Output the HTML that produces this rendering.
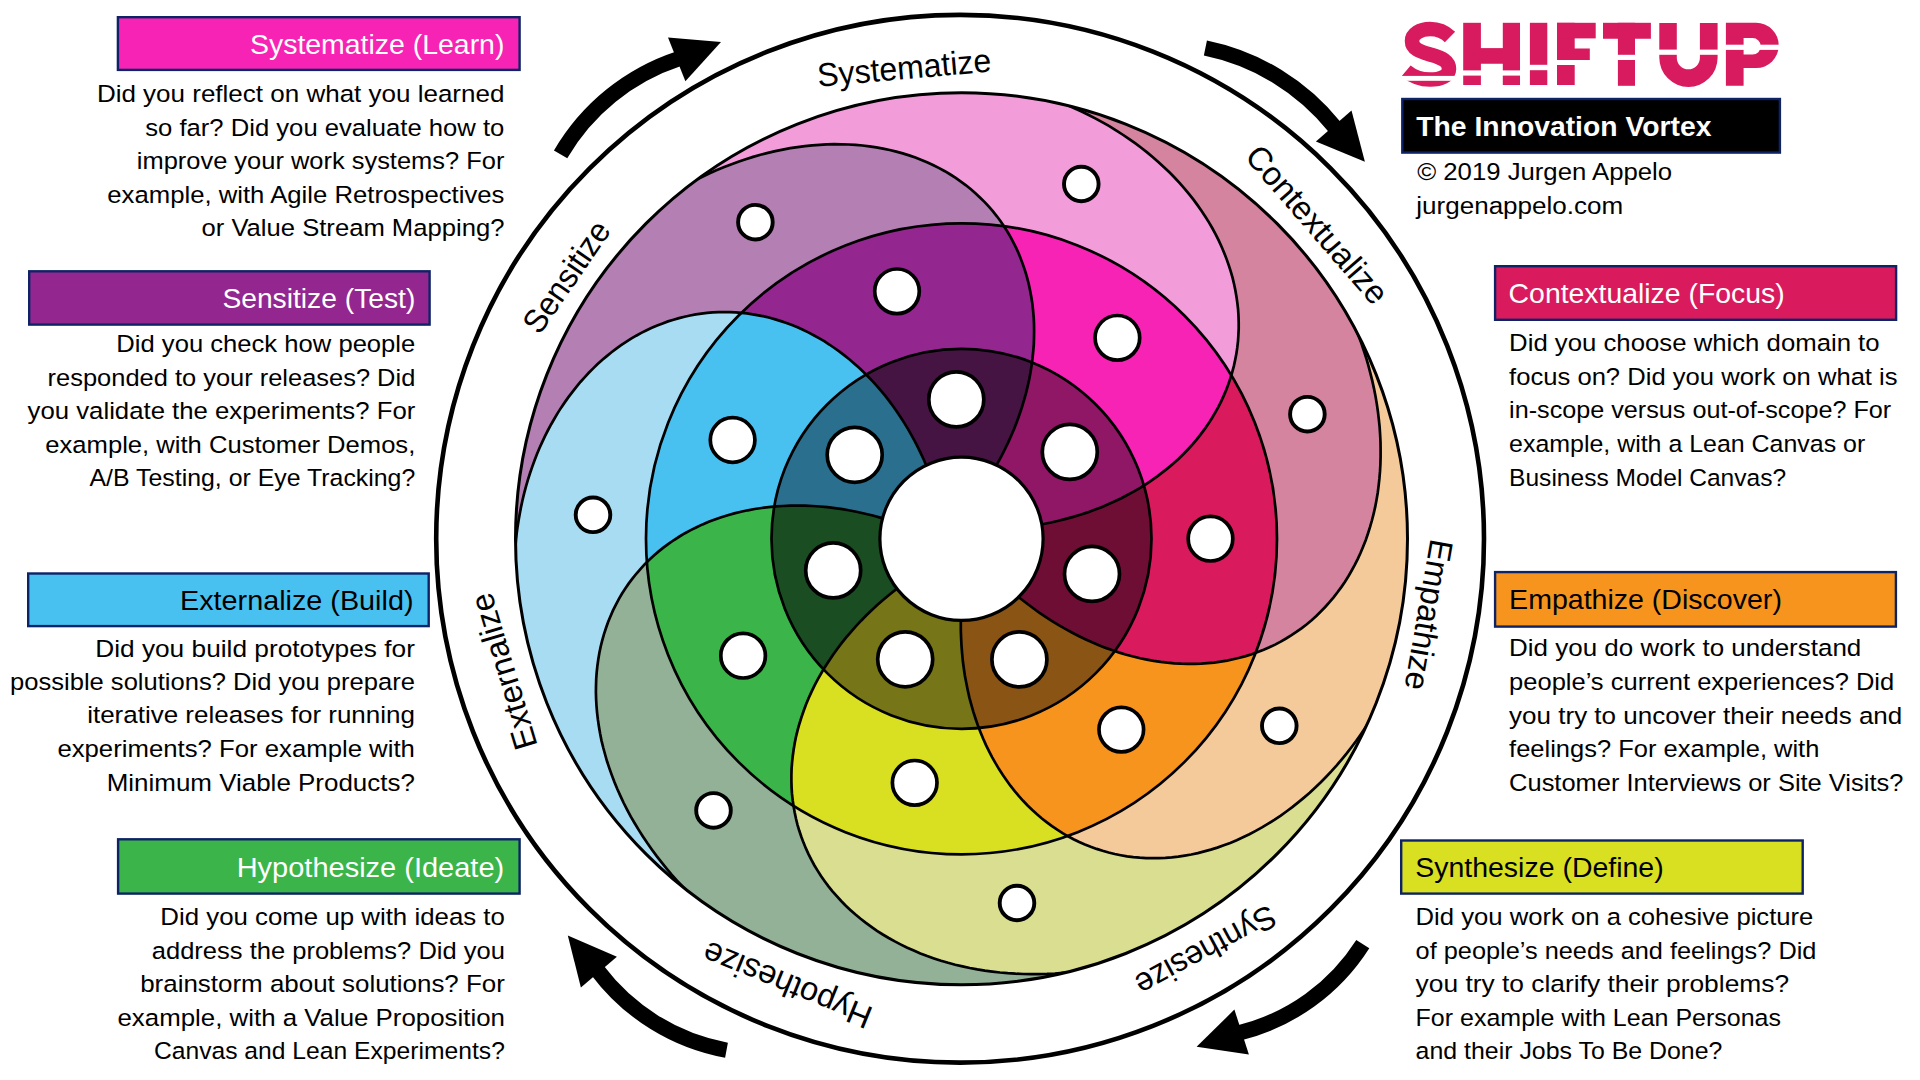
<!DOCTYPE html>
<html><head><meta charset="utf-8"><style>html,body{margin:0;padding:0;background:#fff;width:1920px;height:1080px;overflow:hidden}svg{display:block}svg text{font-family:"Liberation Sans",sans-serif}</style></head>
<body><svg width="1920" height="1080" viewBox="0 0 1920 1080">
<rect width="1920" height="1080" fill="#fff"/>
<defs><clipPath id="cd"><circle cx="961.5" cy="538.8" r="446"/></clipPath>
<clipPath id="c3"><circle cx="961.5" cy="538.8" r="315.5"/></clipPath>
<clipPath id="c2"><circle cx="961.5" cy="538.8" r="190"/></clipPath></defs>
<g clip-path="url(#cd)">
<polygon fill="#B47FB3" points="961.5,538.8 933.8,485.2 931.5,478.6 929,472.1 926.3,465.7 923.6,459.3 920.7,453.1 917.7,446.9 914.6,440.8 911.3,434.8 907.9,428.9 904.4,423.1 900.8,417.5 897.1,411.9 893.3,406.5 889.3,401.1 885.3,395.9 881.1,390.9 876.8,385.9 872.5,381.1 868,376.5 863.5,372 858.8,367.6 854.1,363.4 849.3,359.3 844.4,355.4 839.5,351.6 834.4,348 829.3,344.5 824.2,341.2 818.9,338.1 813.7,335.2 808.3,332.4 802.9,329.8 797.5,327.3 792,325.1 786.5,323 780.9,321.1 775.3,319.4 769.7,317.8 764.1,316.4 758.4,315.3 752.7,314.3 747,313.4 741.3,312.8 735.6,312.4 729.9,312.1 724.2,312 718.4,312.1 712.7,312.4 707.1,312.9 701.4,313.6 695.8,314.4 690.1,315.5 684.5,316.7 679,318.1 673.5,319.7 668,321.4 662.6,323.4 657.2,325.5 651.8,327.8 646.6,330.2 641.3,332.9 636.2,335.7 631.1,338.7 626.1,341.8 621.1,345.1 616.3,348.6 611.5,352.3 606.8,356.1 602.1,360 597.6,364.1 593.2,368.4 588.8,372.8 584.6,377.3 580.4,382 576.4,386.8 572.5,391.8 568.6,396.9 564.9,402.1 561.3,407.4 557.8,412.9 554.5,418.5 551.2,424.2 548.1,430 545.1,435.9 542.3,441.9 539.5,448 536.9,454.2 534.5,460.5 532.2,466.9 530,473.3 527.9,479.8 526,486.4 524.2,493.1 522.6,499.8 521.1,506.6 519.8,513.4 518.6,520.3 517.5,527.2 516.6,534.2 515.9,541.2 515.3,548.2 514.8,555.3 514.5,562.4 514.3,569.4 514.3,576.5 514.5,583.6 514.7,590.8 515.2,597.9 515.8,604.9 516.5,612 517.4,619.1 518.4,626.1 519.6,633.1 520.9,640.1 522.4,647 524,653.9 525.7,660.7 527.6,667.5 529.7,674.3 503.5,682.5 499.3,668.4 495.6,654.2 492.3,640 489.4,625.6 487,611.2 485,596.6 483.5,582.1 482.4,567.4 481.7,552.8 481.5,538.2 481.7,523.5 482.4,508.9 483.6,494.3 485.1,479.7 487.2,465.2 489.6,450.7 492.5,436.4 495.9,422.1 499.7,407.9 503.9,393.9 508.5,380 513.6,366.3 519,352.7 528.3,356.6 531.4,349.6 534.6,342.7 538,335.8 541.6,329 545.3,322.2 549.3,315.5 553.4,308.8 557.7,302.3 562.2,295.7 566.8,289.3 571.6,283 576.5,276.7 581.6,270.5 586.9,264.4 592.3,258.5 597.8,252.6 603.5,246.9 609.3,241.2 615.3,235.7 621.3,230.3 627.5,225.1 633.8,220 640.2,215 646.7,210.1 653.3,205.4 660,200.9 666.8,196.5 673.7,192.3 680.6,188.2 687.6,184.3 694.7,180.5 701.9,177 709.1,173.6 716.3,170.3 723.6,167.3 730.9,164.4 738.3,161.8 745.7,159.3 753.1,156.9 760.5,154.8 767.9,152.9 775.3,151.1 782.8,149.6 790.2,148.2 797.6,147.1 804.9,146.1 812.3,145.4 819.6,144.8 826.9,144.4 834.1,144.2 841.3,144.3 848.4,144.5 855.5,144.9 862.5,145.5 869.4,146.4 876.3,147.4 883,148.6 889.7,150 896.3,151.6 902.7,153.4 909.1,155.4 915.4,157.6 921.5,159.9 927.6,162.5 933.5,165.2 939.2,168.1 944.9,171.2 950.4,174.5 955.7,177.9 960.9,181.6 966,185.3 970.9,189.3 975.7,193.4 980.2,197.7 984.7,202.1 988.9,206.7 993,211.4 996.9,216.3 1000.6,221.3 1004.1,226.5 1007.5,231.8 1010.6,237.2 1013.6,242.8 1016.4,248.4 1019,254.2 1021.3,260.1 1023.5,266.1 1025.5,272.2 1027.3,278.4 1028.9,284.7 1030.2,291.1 1031.4,297.5 1032.4,304.1 1033.1,310.7 1033.7,317.3 1034,324.1 1034.1,330.9 1034,337.7 1033.8,344.6 1033.2,351.5 1032.5,358.5 1031.6,365.5 1030.5,372.5 1029.2,379.5 1027.6,386.6 1025.9,393.6 1023.9,400.7 1021.8,407.7 1019.4,414.7 1016.9,421.7 1014.2,428.7 1011.2,435.7 1008.1,442.6 1004.8,449.5 1001.3,456.4 997.6,463.2 993.8,469.9 989.7,476.6 985.5,483.2"/>
<polygon fill="#F29DDA" points="961.5,538.8 985.5,483.2 989.7,476.6 993.8,469.9 997.6,463.2 1001.3,456.4 1004.8,449.5 1008.1,442.6 1011.2,435.7 1014.2,428.7 1016.9,421.7 1019.4,414.7 1021.8,407.7 1023.9,400.7 1025.9,393.6 1027.6,386.6 1029.2,379.5 1030.5,372.5 1031.6,365.5 1032.5,358.5 1033.2,351.5 1033.8,344.6 1034,337.7 1034.1,330.9 1034,324.1 1033.7,317.3 1033.1,310.7 1032.4,304.1 1031.4,297.5 1030.2,291.1 1028.9,284.7 1027.3,278.4 1025.5,272.2 1023.5,266.1 1021.3,260.1 1019,254.2 1016.4,248.4 1013.6,242.8 1010.6,237.2 1007.5,231.8 1004.1,226.5 1000.6,221.3 996.9,216.3 993,211.4 988.9,206.7 984.7,202.1 980.2,197.7 975.7,193.4 970.9,189.3 966,185.3 960.9,181.6 955.7,177.9 950.4,174.5 944.9,171.2 939.2,168.1 933.5,165.2 927.6,162.5 921.5,159.9 915.4,157.6 909.1,155.4 902.7,153.4 896.3,151.6 889.7,150 883,148.6 876.3,147.4 869.4,146.4 862.5,145.5 855.5,144.9 848.4,144.5 841.3,144.3 834.1,144.2 826.9,144.4 819.6,144.8 812.3,145.4 804.9,146.1 797.6,147.1 790.2,148.2 782.8,149.6 775.3,151.1 767.9,152.9 760.5,154.8 753.1,156.9 745.7,159.3 738.3,161.8 730.9,164.4 723.6,167.3 716.3,170.3 709.1,173.6 701.9,177 694.7,180.5 687.6,184.3 680.6,188.2 673.7,192.3 666.8,196.5 660,200.9 653.3,205.4 646.7,210.1 640.2,215 633.8,220 627.5,225.1 621.3,230.3 615.3,235.7 609.3,241.2 603.5,246.9 597.8,252.6 592.3,258.5 586.9,264.4 581.6,270.5 576.5,276.7 571.6,283 566.8,289.3 562.2,295.7 557.7,302.3 553.4,308.8 549.3,315.5 545.3,322.2 541.6,329 538,335.8 534.6,342.7 531.4,349.6 528.3,356.6 519,352.7 526.6,335.6 534.9,318.8 543.8,302.3 553.3,286.2 563.5,270.5 574.2,255.2 585.6,240.3 597.5,225.9 609.9,211.9 622.9,198.5 636.5,185.5 650.5,173.1 665,161.3 679.9,150 695.3,139.4 711,129.3 727.2,119.8 743.7,111 760.5,102.9 777.7,95.4 795.1,88.5 812.7,82.4 830.6,76.9 834,88.7 841.3,86.7 848.7,84.9 856.2,83.3 863.8,81.8 871.4,80.5 879.2,79.4 886.9,78.5 894.7,77.7 902.6,77.1 910.5,76.7 918.4,76.4 926.4,76.4 934.4,76.5 942.4,76.8 950.4,77.3 958.4,77.9 966.4,78.7 974.4,79.7 982.3,80.9 990.3,82.3 998.2,83.8 1006.1,85.5 1013.9,87.3 1021.7,89.4 1029.5,91.6 1037.1,93.9 1044.8,96.5 1052.3,99.2 1059.8,102 1067.1,105 1074.4,108.2 1081.6,111.5 1088.7,115 1095.7,118.6 1102.6,122.4 1109.3,126.2 1116,130.3 1122.5,134.5 1128.9,138.8 1135.1,143.2 1141.2,147.8 1147.1,152.4 1152.9,157.2 1158.6,162.2 1164,167.2 1169.4,172.3 1174.5,177.5 1179.5,182.9 1184.3,188.3 1188.9,193.8 1193.3,199.4 1197.5,205.1 1201.6,210.9 1205.4,216.7 1209.1,222.6 1212.5,228.5 1215.8,234.6 1218.8,240.6 1221.6,246.8 1224.2,252.9 1226.6,259.1 1228.8,265.4 1230.8,271.6 1232.6,277.9 1234.1,284.2 1235.4,290.6 1236.5,296.9 1237.4,303.3 1238.1,309.6 1238.5,315.9 1238.7,322.3 1238.7,328.6 1238.4,334.9 1238,341.1 1237.3,347.4 1236.4,353.6 1235.2,359.7 1233.9,365.9 1232.3,371.9 1230.5,377.9 1228.5,383.9 1226.3,389.8 1223.8,395.6 1221.2,401.4 1218.3,407.1 1215.2,412.7 1211.9,418.2 1208.5,423.6 1204.8,428.9 1200.9,434.1 1196.8,439.3 1192.6,444.3 1188.1,449.2 1183.5,454 1178.7,458.7 1173.7,463.2 1168.5,467.6 1163.1,471.9 1157.6,476.1 1152,480.1 1146.2,484 1140.2,487.8 1134.1,491.4 1127.8,494.8 1121.4,498.2 1114.9,501.3 1108.2,504.3 1101.5,507.2 1094.6,509.8 1087.6,512.4 1080.4,514.7 1073.2,516.9 1065.9,518.9 1058.5,520.8 1051.1,522.5 1043.5,524 1035.9,525.3 1028.2,526.5 1020.4,527.5"/>
<polygon fill="#D4849E" points="961.5,538.8 1020.4,527.5 1028.2,526.5 1035.9,525.3 1043.5,524 1051.1,522.5 1058.5,520.8 1065.9,518.9 1073.2,516.9 1080.4,514.7 1087.6,512.4 1094.6,509.8 1101.5,507.2 1108.2,504.3 1114.9,501.3 1121.4,498.2 1127.8,494.8 1134.1,491.4 1140.2,487.8 1146.2,484 1152,480.1 1157.6,476.1 1163.1,471.9 1168.5,467.6 1173.7,463.2 1178.7,458.7 1183.5,454 1188.1,449.2 1192.6,444.3 1196.8,439.3 1200.9,434.1 1204.8,428.9 1208.5,423.6 1211.9,418.2 1215.2,412.7 1218.3,407.1 1221.2,401.4 1223.8,395.6 1226.3,389.8 1228.5,383.9 1230.5,377.9 1232.3,371.9 1233.9,365.9 1235.2,359.7 1236.4,353.6 1237.3,347.4 1238,341.1 1238.4,334.9 1238.7,328.6 1238.7,322.3 1238.5,315.9 1238.1,309.6 1237.4,303.3 1236.5,296.9 1235.4,290.6 1234.1,284.2 1232.6,277.9 1230.8,271.6 1228.8,265.4 1226.6,259.1 1224.2,252.9 1221.6,246.8 1218.8,240.6 1215.8,234.6 1212.5,228.5 1209.1,222.6 1205.4,216.7 1201.6,210.9 1197.5,205.1 1193.3,199.4 1188.9,193.8 1184.3,188.3 1179.5,182.9 1174.5,177.5 1169.4,172.3 1164,167.2 1158.6,162.2 1152.9,157.2 1147.1,152.4 1141.2,147.8 1135.1,143.2 1128.9,138.8 1122.5,134.5 1116,130.3 1109.3,126.2 1102.6,122.4 1095.7,118.6 1088.7,115 1081.6,111.5 1074.4,108.2 1067.1,105 1059.8,102 1052.3,99.2 1044.8,96.5 1037.1,93.9 1029.5,91.6 1021.7,89.4 1013.9,87.3 1006.1,85.5 998.2,83.8 990.3,82.3 982.3,80.9 974.4,79.7 966.4,78.7 958.4,77.9 950.4,77.3 942.4,76.8 934.4,76.5 926.4,76.4 918.4,76.4 910.5,76.7 902.6,77.1 894.7,77.7 886.9,78.5 879.2,79.4 871.4,80.5 863.8,81.8 856.2,83.3 848.7,84.9 841.3,86.7 834,88.7 830.6,76.9 848.7,72.2 867,68.1 885.4,64.8 903.9,62.2 922.5,60.3 941.2,59.2 959.8,58.8 978.5,59.1 997.2,60.1 1015.8,61.8 1034.4,64.3 1052.8,67.5 1071.1,71.4 1089.2,76 1107.1,81.4 1124.8,87.4 1142.3,94.1 1159.4,101.5 1176.3,109.5 1192.9,118.2 1209.1,127.5 1224.9,137.5 1240.3,148 1228.3,164.8 1234.6,169.5 1240.9,174.2 1247,179.2 1253.1,184.3 1259,189.5 1264.9,194.9 1270.6,200.5 1276.3,206.2 1281.9,212 1287.3,218 1292.6,224.1 1297.8,230.3 1302.9,236.7 1307.8,243.1 1312.6,249.7 1317.2,256.4 1321.8,263.2 1326.1,270.1 1330.4,277 1334.4,284.1 1338.3,291.2 1342.1,298.4 1345.7,305.7 1349.1,313 1352.4,320.4 1355.5,327.9 1358.4,335.4 1361.2,342.9 1363.8,350.5 1366.2,358 1368.4,365.7 1370.4,373.3 1372.3,380.9 1374,388.6 1375.5,396.2 1376.8,403.9 1377.9,411.5 1378.8,419.1 1379.6,426.7 1380.1,434.3 1380.5,441.8 1380.6,449.3 1380.6,456.7 1380.4,464.1 1380,471.4 1379.4,478.7 1378.6,485.8 1377.7,493 1376.5,500 1375.2,506.9 1373.6,513.8 1371.9,520.5 1370,527.2 1367.9,533.7 1365.7,540.2 1363.2,546.5 1360.6,552.7 1357.8,558.8 1354.9,564.7 1351.7,570.5 1348.4,576.2 1345,581.7 1341.3,587.1 1337.5,592.3 1333.6,597.3 1329.5,602.2 1325.2,607 1320.8,611.5 1316.3,615.9 1311.6,620.2 1306.8,624.2 1301.8,628.1 1296.7,631.7 1291.5,635.2 1286.1,638.5 1280.7,641.6 1275.1,644.6 1269.4,647.3 1263.7,649.8 1257.8,652.1 1251.8,654.2 1245.7,656.1 1239.6,657.8 1233.3,659.3 1227,660.6 1220.6,661.7 1214.1,662.6 1207.6,663.2 1201,663.7 1194.4,663.9 1187.7,663.9 1181,663.7 1174.2,663.3 1167.4,662.7 1160.6,661.9 1153.8,660.9 1146.9,659.6 1140.1,658.2 1133.2,656.5 1126.3,654.7 1119.4,652.6 1112.6,650.3 1105.7,647.9 1098.9,645.2 1092.1,642.3 1085.3,639.3 1078.6,636 1071.9,632.5 1065.3,628.9 1058.7,625.1 1052.1,621.1 1045.6,616.9 1039.2,612.6 1032.9,608 1026.6,603.3 1020.4,598.5 1014.3,593.4 1008.3,588.3 1002.4,582.9"/>
<polygon fill="#F4CA9A" points="961.5,538.8 1002.4,582.9 1008.3,588.3 1014.3,593.4 1020.4,598.5 1026.6,603.3 1032.9,608 1039.2,612.6 1045.6,616.9 1052.1,621.1 1058.7,625.1 1065.3,628.9 1071.9,632.5 1078.6,636 1085.3,639.3 1092.1,642.3 1098.9,645.2 1105.7,647.9 1112.6,650.3 1119.4,652.6 1126.3,654.7 1133.2,656.5 1140.1,658.2 1146.9,659.6 1153.8,660.9 1160.6,661.9 1167.4,662.7 1174.2,663.3 1181,663.7 1187.7,663.9 1194.4,663.9 1201,663.7 1207.6,663.2 1214.1,662.6 1220.6,661.7 1227,660.6 1233.3,659.3 1239.6,657.8 1245.7,656.1 1251.8,654.2 1257.8,652.1 1263.7,649.8 1269.4,647.3 1275.1,644.6 1280.7,641.6 1286.1,638.5 1291.5,635.2 1296.7,631.7 1301.8,628.1 1306.8,624.2 1311.6,620.2 1316.3,615.9 1320.8,611.5 1325.2,607 1329.5,602.2 1333.6,597.3 1337.5,592.3 1341.3,587.1 1345,581.7 1348.4,576.2 1351.7,570.5 1354.9,564.7 1357.8,558.8 1360.6,552.7 1363.2,546.5 1365.7,540.2 1367.9,533.7 1370,527.2 1371.9,520.5 1373.6,513.8 1375.2,506.9 1376.5,500 1377.7,493 1378.6,485.8 1379.4,478.7 1380,471.4 1380.4,464.1 1380.6,456.7 1380.6,449.3 1380.5,441.8 1380.1,434.3 1379.6,426.7 1378.8,419.1 1377.9,411.5 1376.8,403.9 1375.5,396.2 1374,388.6 1372.3,380.9 1370.4,373.3 1368.4,365.7 1366.2,358 1363.8,350.5 1361.2,342.9 1358.4,335.4 1355.5,327.9 1352.4,320.4 1349.1,313 1345.7,305.7 1342.1,298.4 1338.3,291.2 1334.4,284.1 1330.4,277 1326.1,270.1 1321.8,263.2 1317.2,256.4 1312.6,249.7 1307.8,243.1 1302.9,236.7 1297.8,230.3 1292.6,224.1 1287.3,218 1281.9,212 1276.3,206.2 1270.6,200.5 1264.9,194.9 1259,189.5 1253.1,184.3 1247,179.2 1240.9,174.2 1234.6,169.5 1228.3,164.8 1240.3,148 1254.9,158.8 1269,170.1 1282.6,182 1295.8,194.3 1308.6,207.2 1320.8,220.5 1332.6,234.3 1343.8,248.5 1354.4,263.1 1364.6,278.1 1374.1,293.5 1383,309.2 1391.4,325.2 1399.1,341.6 1406.3,358.2 1412.7,375.1 1418.6,392.2 1423.8,409.5 1428.3,427.1 1432.2,444.7 1435.4,462.5 1437.9,480.4 1439.8,498.4 1425.3,499.7 1425.9,507.3 1426.2,515 1426.4,522.8 1426.4,530.6 1426.2,538.4 1425.9,546.2 1425.3,554.1 1424.6,562 1423.7,569.9 1422.6,577.8 1421.4,585.8 1419.9,593.7 1418.3,601.5 1416.5,609.4 1414.5,617.3 1412.4,625.1 1410.1,632.8 1407.6,640.6 1404.9,648.2 1402.1,655.8 1399.1,663.4 1396,670.9 1392.7,678.3 1389.2,685.6 1385.6,692.9 1381.9,700 1378,707.1 1373.9,714 1369.7,720.9 1365.4,727.6 1360.9,734.2 1356.3,740.7 1351.6,747 1346.7,753.3 1341.8,759.3 1336.7,765.3 1331.5,771.1 1326.2,776.7 1320.8,782.2 1315.3,787.5 1309.7,792.7 1304,797.6 1298.2,802.4 1292.3,807.1 1286.4,811.5 1280.4,815.8 1274.3,819.9 1268.2,823.7 1262,827.4 1255.7,830.9 1249.4,834.2 1243,837.3 1236.7,840.2 1230.2,842.9 1223.8,845.3 1217.3,847.6 1210.8,849.6 1204.3,851.4 1197.8,853.1 1191.3,854.5 1184.8,855.6 1178.3,856.6 1171.8,857.3 1165.3,857.8 1158.8,858.1 1152.4,858.2 1146,858.1 1139.7,857.7 1133.3,857.1 1127.1,856.3 1120.8,855.2 1114.7,854 1108.6,852.5 1102.6,850.8 1096.6,848.9 1090.7,846.8 1084.9,844.5 1079.2,842 1073.5,839.2 1068,836.3 1062.6,833.1 1057.2,829.7 1052,826.2 1046.9,822.4 1041.9,818.5 1037,814.3 1032.3,810 1027.6,805.5 1023.1,800.8 1018.7,795.9 1014.5,790.9 1010.4,785.7 1006.5,780.3 1002.7,774.8 999,769.1 995.5,763.2 992.2,757.3 989,751.1 985.9,744.9 983.1,738.5 980.4,731.9 977.8,725.3 975.5,718.5 973.3,711.6 971.3,704.6 969.4,697.6 967.8,690.4 966.3,683.1 964.9,675.7 963.8,668.3 962.8,660.8 962.1,653.2 961.5,645.6 961.1,637.9 960.8,630.1 960.8,622.4 960.9,614.5 961.2,606.7 961.7,598.8"/>
<polygon fill="#DADE91" points="961.5,538.8 961.7,598.8 961.2,606.7 960.9,614.5 960.8,622.4 960.8,630.1 961.1,637.9 961.5,645.6 962.1,653.2 962.8,660.8 963.8,668.3 964.9,675.7 966.3,683.1 967.8,690.4 969.4,697.6 971.3,704.6 973.3,711.6 975.5,718.5 977.8,725.3 980.4,731.9 983.1,738.5 985.9,744.9 989,751.1 992.2,757.3 995.5,763.2 999,769.1 1002.7,774.8 1006.5,780.3 1010.4,785.7 1014.5,790.9 1018.7,795.9 1023.1,800.8 1027.6,805.5 1032.3,810 1037,814.3 1041.9,818.5 1046.9,822.4 1052,826.2 1057.2,829.7 1062.6,833.1 1068,836.3 1073.5,839.2 1079.2,842 1084.9,844.5 1090.7,846.8 1096.6,848.9 1102.6,850.8 1108.6,852.5 1114.7,854 1120.8,855.2 1127.1,856.3 1133.3,857.1 1139.7,857.7 1146,858.1 1152.4,858.2 1158.8,858.1 1165.3,857.8 1171.8,857.3 1178.3,856.6 1184.8,855.6 1191.3,854.5 1197.8,853.1 1204.3,851.4 1210.8,849.6 1217.3,847.6 1223.8,845.3 1230.2,842.9 1236.7,840.2 1243,837.3 1249.4,834.2 1255.7,830.9 1262,827.4 1268.2,823.7 1274.3,819.9 1280.4,815.8 1286.4,811.5 1292.3,807.1 1298.2,802.4 1304,797.6 1309.7,792.7 1315.3,787.5 1320.8,782.2 1326.2,776.7 1331.5,771.1 1336.7,765.3 1341.8,759.3 1346.7,753.3 1351.6,747 1356.3,740.7 1360.9,734.2 1365.4,727.6 1369.7,720.9 1373.9,714 1378,707.1 1381.9,700 1385.6,692.9 1389.2,685.6 1392.7,678.3 1396,670.9 1399.1,663.4 1402.1,655.8 1404.9,648.2 1407.6,640.6 1410.1,632.8 1412.4,625.1 1414.5,617.3 1416.5,609.4 1418.3,601.5 1419.9,593.7 1421.4,585.8 1422.6,577.8 1423.7,569.9 1424.6,562 1425.3,554.1 1425.9,546.2 1426.2,538.4 1426.4,530.6 1426.4,522.8 1426.2,515 1425.9,507.3 1425.3,499.7 1439.8,498.4 1441,517.3 1441.5,536.1 1441.2,555 1440.2,573.8 1438.5,592.6 1436,611.3 1432.8,629.9 1428.8,648.4 1424.1,666.6 1418.8,684.7 1412.7,702.6 1405.9,720.2 1398.4,737.5 1390.3,754.5 1381.5,771.2 1372,787.5 1361.9,803.5 1351.2,819 1339.9,834.1 1328,848.7 1315.5,862.9 1302.5,876.6 1289,889.7 1279,879.1 1273.4,884.2 1267.5,889.3 1261.6,894.2 1255.4,899.1 1249.2,903.8 1242.8,908.3 1236.3,912.8 1229.6,917.1 1222.8,921.3 1215.9,925.3 1208.9,929.2 1201.8,933 1194.6,936.6 1187.3,940 1180,943.3 1172.5,946.5 1165,949.4 1157.4,952.3 1149.7,954.9 1142,957.4 1134.2,959.8 1126.4,961.9 1118.5,963.9 1110.6,965.7 1102.7,967.4 1094.7,968.8 1086.8,970.1 1078.8,971.2 1070.8,972.2 1062.9,972.9 1054.9,973.5 1047,973.9 1039,974.1 1031.2,974.2 1023.3,974 1015.5,973.7 1007.7,973.2 1000,972.5 992.4,971.6 984.8,970.6 977.3,969.4 969.8,968 962.5,966.4 955.2,964.7 948.1,962.8 941,960.7 934,958.4 927.2,956 920.4,953.4 913.8,950.6 907.3,947.7 901,944.6 894.8,941.4 888.7,938 882.8,934.5 877,930.8 871.4,926.9 865.9,922.9 860.6,918.8 855.5,914.6 850.6,910.2 845.8,905.7 841.2,901 836.8,896.2 832.5,891.3 828.5,886.3 824.7,881.2 821,876 817.6,870.6 814.3,865.2 811.3,859.7 808.5,854.1 805.9,848.4 803.5,842.6 801.3,836.7 799.3,830.8 797.5,824.8 796,818.7 794.7,812.6 793.6,806.4 792.7,800.2 792,793.9 791.6,787.6 791.4,781.3 791.4,774.9 791.6,768.5 792.1,762.1 792.8,755.7 793.7,749.2 794.8,742.8 796.1,736.3 797.7,729.9 799.5,723.5 801.5,717.1 803.7,710.7 806.1,704.3 808.7,698 811.6,691.7 814.6,685.4 817.9,679.2 821.4,673 825,666.9 828.9,660.9 832.9,654.9 837.2,649 841.6,643.2 846.2,637.4 851,631.8 856,626.2 861.1,620.7 866.4,615.3 871.9,610 877.5,604.8 883.3,599.7 889.3,594.7 895.4,589.9 901.6,585.2 907.9,580.6 914.4,576.1"/>
<polygon fill="#93B196" points="961.5,538.8 914.4,576.1 907.9,580.6 901.6,585.2 895.4,589.9 889.3,594.7 883.3,599.7 877.5,604.8 871.9,610 866.4,615.3 861.1,620.7 856,626.2 851,631.8 846.2,637.4 841.6,643.2 837.2,649 832.9,654.9 828.9,660.9 825,666.9 821.4,673 817.9,679.2 814.6,685.4 811.6,691.7 808.7,698 806.1,704.3 803.7,710.7 801.5,717.1 799.5,723.5 797.7,729.9 796.1,736.3 794.8,742.8 793.7,749.2 792.8,755.7 792.1,762.1 791.6,768.5 791.4,774.9 791.4,781.3 791.6,787.6 792,793.9 792.7,800.2 793.6,806.4 794.7,812.6 796,818.7 797.5,824.8 799.3,830.8 801.3,836.7 803.5,842.6 805.9,848.4 808.5,854.1 811.3,859.7 814.3,865.2 817.6,870.6 821,876 824.7,881.2 828.5,886.3 832.5,891.3 836.8,896.2 841.2,901 845.8,905.7 850.6,910.2 855.5,914.6 860.6,918.8 865.9,922.9 871.4,926.9 877,930.8 882.8,934.5 888.7,938 894.8,941.4 901,944.6 907.3,947.7 913.8,950.6 920.4,953.4 927.2,956 934,958.4 941,960.7 948.1,962.8 955.2,964.7 962.5,966.4 969.8,968 977.3,969.4 984.8,970.6 992.4,971.6 1000,972.5 1007.7,973.2 1015.5,973.7 1023.3,974 1031.2,974.2 1039,974.1 1047,973.9 1054.9,973.5 1062.9,972.9 1070.8,972.2 1078.8,971.2 1086.8,970.1 1094.7,968.8 1102.7,967.4 1110.6,965.7 1118.5,963.9 1126.4,961.9 1134.2,959.8 1142,957.4 1149.7,954.9 1157.4,952.3 1165,949.4 1172.5,946.5 1180,943.3 1187.3,940 1194.6,936.6 1201.8,933 1208.9,929.2 1215.9,925.3 1222.8,921.3 1229.6,917.1 1236.3,912.8 1242.8,908.3 1249.2,903.8 1255.4,899.1 1261.6,894.2 1267.5,889.3 1273.4,884.2 1279,879.1 1289,889.7 1274.7,902.5 1259.9,914.7 1244.7,926.3 1229,937.3 1212.9,947.6 1196.4,957.3 1179.5,966.4 1162.3,974.7 1144.8,982.4 1126.9,989.3 1108.8,995.6 1090.5,1001.1 1072,1005.9 1053.2,1009.9 1034.4,1013.2 1015.4,1015.7 996.3,1017.5 977.2,1018.5 958.1,1018.7 938.9,1018.2 919.8,1016.9 900.8,1014.9 881.8,1012.1 884.5,996.4 876.9,995 869.3,993.4 861.7,991.7 854.2,989.7 846.6,987.6 839,985.3 831.5,982.8 824,980.1 816.5,977.2 809,974.2 801.6,971 794.3,967.6 787,964 779.8,960.3 772.6,956.4 765.5,952.3 758.5,948.1 751.6,943.8 744.7,939.2 738,934.6 731.4,929.7 724.8,924.8 718.4,919.7 712.1,914.5 705.9,909.1 699.9,903.7 693.9,898.1 688.1,892.3 682.5,886.5 677,880.6 671.6,874.6 666.4,868.4 661.4,862.2 656.5,855.9 651.8,849.5 647.3,843.1 642.9,836.5 638.7,829.9 634.7,823.3 630.8,816.6 627.2,809.8 623.7,803 620.5,796.1 617.4,789.3 614.5,782.3 611.9,775.4 609.4,768.4 607.1,761.5 605.1,754.5 603.2,747.5 601.5,740.6 600.1,733.6 598.9,726.6 597.9,719.7 597.1,712.8 596.5,706 596.1,699.1 595.9,692.3 596,685.6 596.2,678.9 596.7,672.3 597.4,665.7 598.3,659.2 599.4,652.8 600.7,646.5 602.3,640.2 604,634.1 606,628 608.1,622 610.5,616.2 613,610.4 615.8,604.8 618.8,599.2 621.9,593.8 625.3,588.6 628.8,583.4 632.6,578.4 636.5,573.5 640.6,568.8 644.8,564.2 649.3,559.8 653.9,555.5 658.7,551.4 663.7,547.4 668.8,543.6 674,540 679.5,536.5 685,533.2 690.7,530.1 696.6,527.2 702.6,524.4 708.7,521.8 714.9,519.5 721.3,517.2 727.8,515.2 734.3,513.4 741,511.8 747.8,510.3 754.7,509 761.7,508 768.7,507.1 775.8,506.4 783,506 790.3,505.7 797.6,505.6 805,505.7 812.4,506 819.9,506.5 827.4,507.2 834.9,508.1 842.4,509.2 850,510.5 857.6,512 865.2,513.7 872.8,515.5 880.3,517.6 887.9,519.8 895.5,522.2 903,524.8"/>
<polygon fill="#A8DCF2" points="961.5,538.8 903,524.8 895.5,522.2 887.9,519.8 880.3,517.6 872.8,515.5 865.2,513.7 857.6,512 850,510.5 842.4,509.2 834.9,508.1 827.4,507.2 819.9,506.5 812.4,506 805,505.7 797.6,505.6 790.3,505.7 783,506 775.8,506.4 768.7,507.1 761.7,508 754.7,509 747.8,510.3 741,511.8 734.3,513.4 727.8,515.2 721.3,517.2 714.9,519.5 708.7,521.8 702.6,524.4 696.6,527.2 690.7,530.1 685,533.2 679.5,536.5 674,540 668.8,543.6 663.7,547.4 658.7,551.4 653.9,555.5 649.3,559.8 644.8,564.2 640.6,568.8 636.5,573.5 632.6,578.4 628.8,583.4 625.3,588.6 621.9,593.8 618.8,599.2 615.8,604.8 613,610.4 610.5,616.2 608.1,622 606,628 604,634.1 602.3,640.2 600.7,646.5 599.4,652.8 598.3,659.2 597.4,665.7 596.7,672.3 596.2,678.9 596,685.6 595.9,692.3 596.1,699.1 596.5,706 597.1,712.8 597.9,719.7 598.9,726.6 600.1,733.6 601.5,740.6 603.2,747.5 605.1,754.5 607.1,761.5 609.4,768.4 611.9,775.4 614.5,782.3 617.4,789.3 620.5,796.1 623.7,803 627.2,809.8 630.8,816.6 634.7,823.3 638.7,829.9 642.9,836.5 647.3,843.1 651.8,849.5 656.5,855.9 661.4,862.2 666.4,868.4 671.6,874.6 677,880.6 682.5,886.5 688.1,892.3 693.9,898.1 699.9,903.7 705.9,909.1 712.1,914.5 718.4,919.7 724.8,924.8 731.4,929.7 738,934.6 744.7,939.2 751.6,943.8 758.5,948.1 765.5,952.3 772.6,956.4 779.8,960.3 787,964 794.3,967.6 801.6,971 809,974.2 816.5,977.2 824,980.1 831.5,982.8 839,985.3 846.6,987.6 854.2,989.7 861.7,991.7 869.3,993.4 876.9,995 884.5,996.4 881.8,1012.1 859.3,1007.7 837,1002.3 815,995.8 793.3,988.3 772,979.8 751.1,970.2 730.7,959.6 710.9,948.1 691.6,935.7 672.9,922.3 654.9,908.1 637.6,893 621,877.1 605.3,860.5 590.3,843.1 576.2,825 562.9,806.2 550.6,786.8 539.2,766.9 528.8,746.5 519.3,725.5 510.9,704.2 503.5,682.5 529.7,674.3 527.6,667.5 525.7,660.7 524,653.9 522.4,647 520.9,640.1 519.6,633.1 518.4,626.1 517.4,619.1 516.5,612 515.8,604.9 515.2,597.9 514.7,590.8 514.5,583.6 514.3,576.5 514.3,569.4 514.5,562.4 514.8,555.3 515.3,548.2 515.9,541.2 516.6,534.2 517.5,527.2 518.6,520.3 519.8,513.4 521.1,506.6 522.6,499.8 524.2,493.1 526,486.4 527.9,479.8 530,473.3 532.2,466.9 534.5,460.5 536.9,454.2 539.5,448 542.3,441.9 545.1,435.9 548.1,430 551.2,424.2 554.5,418.5 557.8,412.9 561.3,407.4 564.9,402.1 568.6,396.9 572.5,391.8 576.4,386.8 580.4,382 584.6,377.3 588.8,372.8 593.2,368.4 597.6,364.1 602.1,360 606.8,356.1 611.5,352.3 616.3,348.6 621.1,345.1 626.1,341.8 631.1,338.7 636.2,335.7 641.3,332.9 646.6,330.2 651.8,327.8 657.2,325.5 662.6,323.4 668,321.4 673.5,319.7 679,318.1 684.5,316.7 690.1,315.5 695.8,314.4 701.4,313.6 707.1,312.9 712.7,312.4 718.4,312.1 724.2,312 729.9,312.1 735.6,312.4 741.3,312.8 747,313.4 752.7,314.3 758.4,315.3 764.1,316.4 769.7,317.8 775.3,319.4 780.9,321.1 786.5,323 792,325.1 797.5,327.3 802.9,329.8 808.3,332.4 813.7,335.2 818.9,338.1 824.2,341.2 829.3,344.5 834.4,348 839.5,351.6 844.4,355.4 849.3,359.3 854.1,363.4 858.8,367.6 863.5,372 868,376.5 872.5,381.1 876.8,385.9 881.1,390.9 885.3,395.9 889.3,401.1 893.3,406.5 897.1,411.9 900.8,417.5 904.4,423.1 907.9,428.9 911.3,434.8 914.6,440.8 917.7,446.9 920.7,453.1 923.6,459.3 926.3,465.7 929,472.1 931.5,478.6 933.8,485.2"/>
<g clip-path="url(#c3)">
<polygon fill="#93278F" points="961.5,538.8 933.8,485.2 931.5,478.6 929,472.1 926.3,465.7 923.6,459.3 920.7,453.1 917.7,446.9 914.6,440.8 911.3,434.8 907.9,428.9 904.4,423.1 900.8,417.5 897.1,411.9 893.3,406.5 889.3,401.1 885.3,395.9 881.1,390.9 876.8,385.9 872.5,381.1 868,376.5 863.5,372 858.8,367.6 854.1,363.4 849.3,359.3 844.4,355.4 839.5,351.6 834.4,348 829.3,344.5 824.2,341.2 818.9,338.1 813.7,335.2 808.3,332.4 802.9,329.8 797.5,327.3 792,325.1 786.5,323 780.9,321.1 775.3,319.4 769.7,317.8 764.1,316.4 758.4,315.3 752.7,314.3 747,313.4 741.3,312.8 735.6,312.4 729.9,312.1 724.2,312 718.4,312.1 712.7,312.4 707.1,312.9 701.4,313.6 695.8,314.4 690.1,315.5 684.5,316.7 679,318.1 673.5,319.7 668,321.4 662.6,323.4 657.2,325.5 651.8,327.8 646.6,330.2 641.3,332.9 636.2,335.7 631.1,338.7 626.1,341.8 621.1,345.1 616.3,348.6 611.5,352.3 606.8,356.1 602.1,360 597.6,364.1 593.2,368.4 588.8,372.8 584.6,377.3 580.4,382 576.4,386.8 572.5,391.8 568.6,396.9 564.9,402.1 561.3,407.4 557.8,412.9 554.5,418.5 551.2,424.2 548.1,430 545.1,435.9 542.3,441.9 539.5,448 536.9,454.2 534.5,460.5 532.2,466.9 530,473.3 527.9,479.8 526,486.4 524.2,493.1 522.6,499.8 521.1,506.6 519.8,513.4 518.6,520.3 517.5,527.2 516.6,534.2 515.9,541.2 515.3,548.2 514.8,555.3 514.5,562.4 514.3,569.4 514.3,576.5 514.5,583.6 514.7,590.8 515.2,597.9 515.8,604.9 516.5,612 517.4,619.1 518.4,626.1 519.6,633.1 520.9,640.1 522.4,647 524,653.9 525.7,660.7 527.6,667.5 529.7,674.3 503.5,682.5 499.3,668.4 495.6,654.2 492.3,640 489.4,625.6 487,611.2 485,596.6 483.5,582.1 482.4,567.4 481.7,552.8 481.5,538.2 481.7,523.5 482.4,508.9 483.6,494.3 485.1,479.7 487.2,465.2 489.6,450.7 492.5,436.4 495.9,422.1 499.7,407.9 503.9,393.9 508.5,380 513.6,366.3 519,352.7 528.3,356.6 531.4,349.6 534.6,342.7 538,335.8 541.6,329 545.3,322.2 549.3,315.5 553.4,308.8 557.7,302.3 562.2,295.7 566.8,289.3 571.6,283 576.5,276.7 581.6,270.5 586.9,264.4 592.3,258.5 597.8,252.6 603.5,246.9 609.3,241.2 615.3,235.7 621.3,230.3 627.5,225.1 633.8,220 640.2,215 646.7,210.1 653.3,205.4 660,200.9 666.8,196.5 673.7,192.3 680.6,188.2 687.6,184.3 694.7,180.5 701.9,177 709.1,173.6 716.3,170.3 723.6,167.3 730.9,164.4 738.3,161.8 745.7,159.3 753.1,156.9 760.5,154.8 767.9,152.9 775.3,151.1 782.8,149.6 790.2,148.2 797.6,147.1 804.9,146.1 812.3,145.4 819.6,144.8 826.9,144.4 834.1,144.2 841.3,144.3 848.4,144.5 855.5,144.9 862.5,145.5 869.4,146.4 876.3,147.4 883,148.6 889.7,150 896.3,151.6 902.7,153.4 909.1,155.4 915.4,157.6 921.5,159.9 927.6,162.5 933.5,165.2 939.2,168.1 944.9,171.2 950.4,174.5 955.7,177.9 960.9,181.6 966,185.3 970.9,189.3 975.7,193.4 980.2,197.7 984.7,202.1 988.9,206.7 993,211.4 996.9,216.3 1000.6,221.3 1004.1,226.5 1007.5,231.8 1010.6,237.2 1013.6,242.8 1016.4,248.4 1019,254.2 1021.3,260.1 1023.5,266.1 1025.5,272.2 1027.3,278.4 1028.9,284.7 1030.2,291.1 1031.4,297.5 1032.4,304.1 1033.1,310.7 1033.7,317.3 1034,324.1 1034.1,330.9 1034,337.7 1033.8,344.6 1033.2,351.5 1032.5,358.5 1031.6,365.5 1030.5,372.5 1029.2,379.5 1027.6,386.6 1025.9,393.6 1023.9,400.7 1021.8,407.7 1019.4,414.7 1016.9,421.7 1014.2,428.7 1011.2,435.7 1008.1,442.6 1004.8,449.5 1001.3,456.4 997.6,463.2 993.8,469.9 989.7,476.6 985.5,483.2"/>
<polygon fill="#F623B5" points="961.5,538.8 985.5,483.2 989.7,476.6 993.8,469.9 997.6,463.2 1001.3,456.4 1004.8,449.5 1008.1,442.6 1011.2,435.7 1014.2,428.7 1016.9,421.7 1019.4,414.7 1021.8,407.7 1023.9,400.7 1025.9,393.6 1027.6,386.6 1029.2,379.5 1030.5,372.5 1031.6,365.5 1032.5,358.5 1033.2,351.5 1033.8,344.6 1034,337.7 1034.1,330.9 1034,324.1 1033.7,317.3 1033.1,310.7 1032.4,304.1 1031.4,297.5 1030.2,291.1 1028.9,284.7 1027.3,278.4 1025.5,272.2 1023.5,266.1 1021.3,260.1 1019,254.2 1016.4,248.4 1013.6,242.8 1010.6,237.2 1007.5,231.8 1004.1,226.5 1000.6,221.3 996.9,216.3 993,211.4 988.9,206.7 984.7,202.1 980.2,197.7 975.7,193.4 970.9,189.3 966,185.3 960.9,181.6 955.7,177.9 950.4,174.5 944.9,171.2 939.2,168.1 933.5,165.2 927.6,162.5 921.5,159.9 915.4,157.6 909.1,155.4 902.7,153.4 896.3,151.6 889.7,150 883,148.6 876.3,147.4 869.4,146.4 862.5,145.5 855.5,144.9 848.4,144.5 841.3,144.3 834.1,144.2 826.9,144.4 819.6,144.8 812.3,145.4 804.9,146.1 797.6,147.1 790.2,148.2 782.8,149.6 775.3,151.1 767.9,152.9 760.5,154.8 753.1,156.9 745.7,159.3 738.3,161.8 730.9,164.4 723.6,167.3 716.3,170.3 709.1,173.6 701.9,177 694.7,180.5 687.6,184.3 680.6,188.2 673.7,192.3 666.8,196.5 660,200.9 653.3,205.4 646.7,210.1 640.2,215 633.8,220 627.5,225.1 621.3,230.3 615.3,235.7 609.3,241.2 603.5,246.9 597.8,252.6 592.3,258.5 586.9,264.4 581.6,270.5 576.5,276.7 571.6,283 566.8,289.3 562.2,295.7 557.7,302.3 553.4,308.8 549.3,315.5 545.3,322.2 541.6,329 538,335.8 534.6,342.7 531.4,349.6 528.3,356.6 519,352.7 526.6,335.6 534.9,318.8 543.8,302.3 553.3,286.2 563.5,270.5 574.2,255.2 585.6,240.3 597.5,225.9 609.9,211.9 622.9,198.5 636.5,185.5 650.5,173.1 665,161.3 679.9,150 695.3,139.4 711,129.3 727.2,119.8 743.7,111 760.5,102.9 777.7,95.4 795.1,88.5 812.7,82.4 830.6,76.9 834,88.7 841.3,86.7 848.7,84.9 856.2,83.3 863.8,81.8 871.4,80.5 879.2,79.4 886.9,78.5 894.7,77.7 902.6,77.1 910.5,76.7 918.4,76.4 926.4,76.4 934.4,76.5 942.4,76.8 950.4,77.3 958.4,77.9 966.4,78.7 974.4,79.7 982.3,80.9 990.3,82.3 998.2,83.8 1006.1,85.5 1013.9,87.3 1021.7,89.4 1029.5,91.6 1037.1,93.9 1044.8,96.5 1052.3,99.2 1059.8,102 1067.1,105 1074.4,108.2 1081.6,111.5 1088.7,115 1095.7,118.6 1102.6,122.4 1109.3,126.2 1116,130.3 1122.5,134.5 1128.9,138.8 1135.1,143.2 1141.2,147.8 1147.1,152.4 1152.9,157.2 1158.6,162.2 1164,167.2 1169.4,172.3 1174.5,177.5 1179.5,182.9 1184.3,188.3 1188.9,193.8 1193.3,199.4 1197.5,205.1 1201.6,210.9 1205.4,216.7 1209.1,222.6 1212.5,228.5 1215.8,234.6 1218.8,240.6 1221.6,246.8 1224.2,252.9 1226.6,259.1 1228.8,265.4 1230.8,271.6 1232.6,277.9 1234.1,284.2 1235.4,290.6 1236.5,296.9 1237.4,303.3 1238.1,309.6 1238.5,315.9 1238.7,322.3 1238.7,328.6 1238.4,334.9 1238,341.1 1237.3,347.4 1236.4,353.6 1235.2,359.7 1233.9,365.9 1232.3,371.9 1230.5,377.9 1228.5,383.9 1226.3,389.8 1223.8,395.6 1221.2,401.4 1218.3,407.1 1215.2,412.7 1211.9,418.2 1208.5,423.6 1204.8,428.9 1200.9,434.1 1196.8,439.3 1192.6,444.3 1188.1,449.2 1183.5,454 1178.7,458.7 1173.7,463.2 1168.5,467.6 1163.1,471.9 1157.6,476.1 1152,480.1 1146.2,484 1140.2,487.8 1134.1,491.4 1127.8,494.8 1121.4,498.2 1114.9,501.3 1108.2,504.3 1101.5,507.2 1094.6,509.8 1087.6,512.4 1080.4,514.7 1073.2,516.9 1065.9,518.9 1058.5,520.8 1051.1,522.5 1043.5,524 1035.9,525.3 1028.2,526.5 1020.4,527.5"/>
<polygon fill="#D91A5D" points="961.5,538.8 1020.4,527.5 1028.2,526.5 1035.9,525.3 1043.5,524 1051.1,522.5 1058.5,520.8 1065.9,518.9 1073.2,516.9 1080.4,514.7 1087.6,512.4 1094.6,509.8 1101.5,507.2 1108.2,504.3 1114.9,501.3 1121.4,498.2 1127.8,494.8 1134.1,491.4 1140.2,487.8 1146.2,484 1152,480.1 1157.6,476.1 1163.1,471.9 1168.5,467.6 1173.7,463.2 1178.7,458.7 1183.5,454 1188.1,449.2 1192.6,444.3 1196.8,439.3 1200.9,434.1 1204.8,428.9 1208.5,423.6 1211.9,418.2 1215.2,412.7 1218.3,407.1 1221.2,401.4 1223.8,395.6 1226.3,389.8 1228.5,383.9 1230.5,377.9 1232.3,371.9 1233.9,365.9 1235.2,359.7 1236.4,353.6 1237.3,347.4 1238,341.1 1238.4,334.9 1238.7,328.6 1238.7,322.3 1238.5,315.9 1238.1,309.6 1237.4,303.3 1236.5,296.9 1235.4,290.6 1234.1,284.2 1232.6,277.9 1230.8,271.6 1228.8,265.4 1226.6,259.1 1224.2,252.9 1221.6,246.8 1218.8,240.6 1215.8,234.6 1212.5,228.5 1209.1,222.6 1205.4,216.7 1201.6,210.9 1197.5,205.1 1193.3,199.4 1188.9,193.8 1184.3,188.3 1179.5,182.9 1174.5,177.5 1169.4,172.3 1164,167.2 1158.6,162.2 1152.9,157.2 1147.1,152.4 1141.2,147.8 1135.1,143.2 1128.9,138.8 1122.5,134.5 1116,130.3 1109.3,126.2 1102.6,122.4 1095.7,118.6 1088.7,115 1081.6,111.5 1074.4,108.2 1067.1,105 1059.8,102 1052.3,99.2 1044.8,96.5 1037.1,93.9 1029.5,91.6 1021.7,89.4 1013.9,87.3 1006.1,85.5 998.2,83.8 990.3,82.3 982.3,80.9 974.4,79.7 966.4,78.7 958.4,77.9 950.4,77.3 942.4,76.8 934.4,76.5 926.4,76.4 918.4,76.4 910.5,76.7 902.6,77.1 894.7,77.7 886.9,78.5 879.2,79.4 871.4,80.5 863.8,81.8 856.2,83.3 848.7,84.9 841.3,86.7 834,88.7 830.6,76.9 848.7,72.2 867,68.1 885.4,64.8 903.9,62.2 922.5,60.3 941.2,59.2 959.8,58.8 978.5,59.1 997.2,60.1 1015.8,61.8 1034.4,64.3 1052.8,67.5 1071.1,71.4 1089.2,76 1107.1,81.4 1124.8,87.4 1142.3,94.1 1159.4,101.5 1176.3,109.5 1192.9,118.2 1209.1,127.5 1224.9,137.5 1240.3,148 1228.3,164.8 1234.6,169.5 1240.9,174.2 1247,179.2 1253.1,184.3 1259,189.5 1264.9,194.9 1270.6,200.5 1276.3,206.2 1281.9,212 1287.3,218 1292.6,224.1 1297.8,230.3 1302.9,236.7 1307.8,243.1 1312.6,249.7 1317.2,256.4 1321.8,263.2 1326.1,270.1 1330.4,277 1334.4,284.1 1338.3,291.2 1342.1,298.4 1345.7,305.7 1349.1,313 1352.4,320.4 1355.5,327.9 1358.4,335.4 1361.2,342.9 1363.8,350.5 1366.2,358 1368.4,365.7 1370.4,373.3 1372.3,380.9 1374,388.6 1375.5,396.2 1376.8,403.9 1377.9,411.5 1378.8,419.1 1379.6,426.7 1380.1,434.3 1380.5,441.8 1380.6,449.3 1380.6,456.7 1380.4,464.1 1380,471.4 1379.4,478.7 1378.6,485.8 1377.7,493 1376.5,500 1375.2,506.9 1373.6,513.8 1371.9,520.5 1370,527.2 1367.9,533.7 1365.7,540.2 1363.2,546.5 1360.6,552.7 1357.8,558.8 1354.9,564.7 1351.7,570.5 1348.4,576.2 1345,581.7 1341.3,587.1 1337.5,592.3 1333.6,597.3 1329.5,602.2 1325.2,607 1320.8,611.5 1316.3,615.9 1311.6,620.2 1306.8,624.2 1301.8,628.1 1296.7,631.7 1291.5,635.2 1286.1,638.5 1280.7,641.6 1275.1,644.6 1269.4,647.3 1263.7,649.8 1257.8,652.1 1251.8,654.2 1245.7,656.1 1239.6,657.8 1233.3,659.3 1227,660.6 1220.6,661.7 1214.1,662.6 1207.6,663.2 1201,663.7 1194.4,663.9 1187.7,663.9 1181,663.7 1174.2,663.3 1167.4,662.7 1160.6,661.9 1153.8,660.9 1146.9,659.6 1140.1,658.2 1133.2,656.5 1126.3,654.7 1119.4,652.6 1112.6,650.3 1105.7,647.9 1098.9,645.2 1092.1,642.3 1085.3,639.3 1078.6,636 1071.9,632.5 1065.3,628.9 1058.7,625.1 1052.1,621.1 1045.6,616.9 1039.2,612.6 1032.9,608 1026.6,603.3 1020.4,598.5 1014.3,593.4 1008.3,588.3 1002.4,582.9"/>
<polygon fill="#F7941E" points="961.5,538.8 1002.4,582.9 1008.3,588.3 1014.3,593.4 1020.4,598.5 1026.6,603.3 1032.9,608 1039.2,612.6 1045.6,616.9 1052.1,621.1 1058.7,625.1 1065.3,628.9 1071.9,632.5 1078.6,636 1085.3,639.3 1092.1,642.3 1098.9,645.2 1105.7,647.9 1112.6,650.3 1119.4,652.6 1126.3,654.7 1133.2,656.5 1140.1,658.2 1146.9,659.6 1153.8,660.9 1160.6,661.9 1167.4,662.7 1174.2,663.3 1181,663.7 1187.7,663.9 1194.4,663.9 1201,663.7 1207.6,663.2 1214.1,662.6 1220.6,661.7 1227,660.6 1233.3,659.3 1239.6,657.8 1245.7,656.1 1251.8,654.2 1257.8,652.1 1263.7,649.8 1269.4,647.3 1275.1,644.6 1280.7,641.6 1286.1,638.5 1291.5,635.2 1296.7,631.7 1301.8,628.1 1306.8,624.2 1311.6,620.2 1316.3,615.9 1320.8,611.5 1325.2,607 1329.5,602.2 1333.6,597.3 1337.5,592.3 1341.3,587.1 1345,581.7 1348.4,576.2 1351.7,570.5 1354.9,564.7 1357.8,558.8 1360.6,552.7 1363.2,546.5 1365.7,540.2 1367.9,533.7 1370,527.2 1371.9,520.5 1373.6,513.8 1375.2,506.9 1376.5,500 1377.7,493 1378.6,485.8 1379.4,478.7 1380,471.4 1380.4,464.1 1380.6,456.7 1380.6,449.3 1380.5,441.8 1380.1,434.3 1379.6,426.7 1378.8,419.1 1377.9,411.5 1376.8,403.9 1375.5,396.2 1374,388.6 1372.3,380.9 1370.4,373.3 1368.4,365.7 1366.2,358 1363.8,350.5 1361.2,342.9 1358.4,335.4 1355.5,327.9 1352.4,320.4 1349.1,313 1345.7,305.7 1342.1,298.4 1338.3,291.2 1334.4,284.1 1330.4,277 1326.1,270.1 1321.8,263.2 1317.2,256.4 1312.6,249.7 1307.8,243.1 1302.9,236.7 1297.8,230.3 1292.6,224.1 1287.3,218 1281.9,212 1276.3,206.2 1270.6,200.5 1264.9,194.9 1259,189.5 1253.1,184.3 1247,179.2 1240.9,174.2 1234.6,169.5 1228.3,164.8 1240.3,148 1254.9,158.8 1269,170.1 1282.6,182 1295.8,194.3 1308.6,207.2 1320.8,220.5 1332.6,234.3 1343.8,248.5 1354.4,263.1 1364.6,278.1 1374.1,293.5 1383,309.2 1391.4,325.2 1399.1,341.6 1406.3,358.2 1412.7,375.1 1418.6,392.2 1423.8,409.5 1428.3,427.1 1432.2,444.7 1435.4,462.5 1437.9,480.4 1439.8,498.4 1425.3,499.7 1425.9,507.3 1426.2,515 1426.4,522.8 1426.4,530.6 1426.2,538.4 1425.9,546.2 1425.3,554.1 1424.6,562 1423.7,569.9 1422.6,577.8 1421.4,585.8 1419.9,593.7 1418.3,601.5 1416.5,609.4 1414.5,617.3 1412.4,625.1 1410.1,632.8 1407.6,640.6 1404.9,648.2 1402.1,655.8 1399.1,663.4 1396,670.9 1392.7,678.3 1389.2,685.6 1385.6,692.9 1381.9,700 1378,707.1 1373.9,714 1369.7,720.9 1365.4,727.6 1360.9,734.2 1356.3,740.7 1351.6,747 1346.7,753.3 1341.8,759.3 1336.7,765.3 1331.5,771.1 1326.2,776.7 1320.8,782.2 1315.3,787.5 1309.7,792.7 1304,797.6 1298.2,802.4 1292.3,807.1 1286.4,811.5 1280.4,815.8 1274.3,819.9 1268.2,823.7 1262,827.4 1255.7,830.9 1249.4,834.2 1243,837.3 1236.7,840.2 1230.2,842.9 1223.8,845.3 1217.3,847.6 1210.8,849.6 1204.3,851.4 1197.8,853.1 1191.3,854.5 1184.8,855.6 1178.3,856.6 1171.8,857.3 1165.3,857.8 1158.8,858.1 1152.4,858.2 1146,858.1 1139.7,857.7 1133.3,857.1 1127.1,856.3 1120.8,855.2 1114.7,854 1108.6,852.5 1102.6,850.8 1096.6,848.9 1090.7,846.8 1084.9,844.5 1079.2,842 1073.5,839.2 1068,836.3 1062.6,833.1 1057.2,829.7 1052,826.2 1046.9,822.4 1041.9,818.5 1037,814.3 1032.3,810 1027.6,805.5 1023.1,800.8 1018.7,795.9 1014.5,790.9 1010.4,785.7 1006.5,780.3 1002.7,774.8 999,769.1 995.5,763.2 992.2,757.3 989,751.1 985.9,744.9 983.1,738.5 980.4,731.9 977.8,725.3 975.5,718.5 973.3,711.6 971.3,704.6 969.4,697.6 967.8,690.4 966.3,683.1 964.9,675.7 963.8,668.3 962.8,660.8 962.1,653.2 961.5,645.6 961.1,637.9 960.8,630.1 960.8,622.4 960.9,614.5 961.2,606.7 961.7,598.8"/>
<polygon fill="#D9E021" points="961.5,538.8 961.7,598.8 961.2,606.7 960.9,614.5 960.8,622.4 960.8,630.1 961.1,637.9 961.5,645.6 962.1,653.2 962.8,660.8 963.8,668.3 964.9,675.7 966.3,683.1 967.8,690.4 969.4,697.6 971.3,704.6 973.3,711.6 975.5,718.5 977.8,725.3 980.4,731.9 983.1,738.5 985.9,744.9 989,751.1 992.2,757.3 995.5,763.2 999,769.1 1002.7,774.8 1006.5,780.3 1010.4,785.7 1014.5,790.9 1018.7,795.9 1023.1,800.8 1027.6,805.5 1032.3,810 1037,814.3 1041.9,818.5 1046.9,822.4 1052,826.2 1057.2,829.7 1062.6,833.1 1068,836.3 1073.5,839.2 1079.2,842 1084.9,844.5 1090.7,846.8 1096.6,848.9 1102.6,850.8 1108.6,852.5 1114.7,854 1120.8,855.2 1127.1,856.3 1133.3,857.1 1139.7,857.7 1146,858.1 1152.4,858.2 1158.8,858.1 1165.3,857.8 1171.8,857.3 1178.3,856.6 1184.8,855.6 1191.3,854.5 1197.8,853.1 1204.3,851.4 1210.8,849.6 1217.3,847.6 1223.8,845.3 1230.2,842.9 1236.7,840.2 1243,837.3 1249.4,834.2 1255.7,830.9 1262,827.4 1268.2,823.7 1274.3,819.9 1280.4,815.8 1286.4,811.5 1292.3,807.1 1298.2,802.4 1304,797.6 1309.7,792.7 1315.3,787.5 1320.8,782.2 1326.2,776.7 1331.5,771.1 1336.7,765.3 1341.8,759.3 1346.7,753.3 1351.6,747 1356.3,740.7 1360.9,734.2 1365.4,727.6 1369.7,720.9 1373.9,714 1378,707.1 1381.9,700 1385.6,692.9 1389.2,685.6 1392.7,678.3 1396,670.9 1399.1,663.4 1402.1,655.8 1404.9,648.2 1407.6,640.6 1410.1,632.8 1412.4,625.1 1414.5,617.3 1416.5,609.4 1418.3,601.5 1419.9,593.7 1421.4,585.8 1422.6,577.8 1423.7,569.9 1424.6,562 1425.3,554.1 1425.9,546.2 1426.2,538.4 1426.4,530.6 1426.4,522.8 1426.2,515 1425.9,507.3 1425.3,499.7 1439.8,498.4 1441,517.3 1441.5,536.1 1441.2,555 1440.2,573.8 1438.5,592.6 1436,611.3 1432.8,629.9 1428.8,648.4 1424.1,666.6 1418.8,684.7 1412.7,702.6 1405.9,720.2 1398.4,737.5 1390.3,754.5 1381.5,771.2 1372,787.5 1361.9,803.5 1351.2,819 1339.9,834.1 1328,848.7 1315.5,862.9 1302.5,876.6 1289,889.7 1279,879.1 1273.4,884.2 1267.5,889.3 1261.6,894.2 1255.4,899.1 1249.2,903.8 1242.8,908.3 1236.3,912.8 1229.6,917.1 1222.8,921.3 1215.9,925.3 1208.9,929.2 1201.8,933 1194.6,936.6 1187.3,940 1180,943.3 1172.5,946.5 1165,949.4 1157.4,952.3 1149.7,954.9 1142,957.4 1134.2,959.8 1126.4,961.9 1118.5,963.9 1110.6,965.7 1102.7,967.4 1094.7,968.8 1086.8,970.1 1078.8,971.2 1070.8,972.2 1062.9,972.9 1054.9,973.5 1047,973.9 1039,974.1 1031.2,974.2 1023.3,974 1015.5,973.7 1007.7,973.2 1000,972.5 992.4,971.6 984.8,970.6 977.3,969.4 969.8,968 962.5,966.4 955.2,964.7 948.1,962.8 941,960.7 934,958.4 927.2,956 920.4,953.4 913.8,950.6 907.3,947.7 901,944.6 894.8,941.4 888.7,938 882.8,934.5 877,930.8 871.4,926.9 865.9,922.9 860.6,918.8 855.5,914.6 850.6,910.2 845.8,905.7 841.2,901 836.8,896.2 832.5,891.3 828.5,886.3 824.7,881.2 821,876 817.6,870.6 814.3,865.2 811.3,859.7 808.5,854.1 805.9,848.4 803.5,842.6 801.3,836.7 799.3,830.8 797.5,824.8 796,818.7 794.7,812.6 793.6,806.4 792.7,800.2 792,793.9 791.6,787.6 791.4,781.3 791.4,774.9 791.6,768.5 792.1,762.1 792.8,755.7 793.7,749.2 794.8,742.8 796.1,736.3 797.7,729.9 799.5,723.5 801.5,717.1 803.7,710.7 806.1,704.3 808.7,698 811.6,691.7 814.6,685.4 817.9,679.2 821.4,673 825,666.9 828.9,660.9 832.9,654.9 837.2,649 841.6,643.2 846.2,637.4 851,631.8 856,626.2 861.1,620.7 866.4,615.3 871.9,610 877.5,604.8 883.3,599.7 889.3,594.7 895.4,589.9 901.6,585.2 907.9,580.6 914.4,576.1"/>
<polygon fill="#3BB54A" points="961.5,538.8 914.4,576.1 907.9,580.6 901.6,585.2 895.4,589.9 889.3,594.7 883.3,599.7 877.5,604.8 871.9,610 866.4,615.3 861.1,620.7 856,626.2 851,631.8 846.2,637.4 841.6,643.2 837.2,649 832.9,654.9 828.9,660.9 825,666.9 821.4,673 817.9,679.2 814.6,685.4 811.6,691.7 808.7,698 806.1,704.3 803.7,710.7 801.5,717.1 799.5,723.5 797.7,729.9 796.1,736.3 794.8,742.8 793.7,749.2 792.8,755.7 792.1,762.1 791.6,768.5 791.4,774.9 791.4,781.3 791.6,787.6 792,793.9 792.7,800.2 793.6,806.4 794.7,812.6 796,818.7 797.5,824.8 799.3,830.8 801.3,836.7 803.5,842.6 805.9,848.4 808.5,854.1 811.3,859.7 814.3,865.2 817.6,870.6 821,876 824.7,881.2 828.5,886.3 832.5,891.3 836.8,896.2 841.2,901 845.8,905.7 850.6,910.2 855.5,914.6 860.6,918.8 865.9,922.9 871.4,926.9 877,930.8 882.8,934.5 888.7,938 894.8,941.4 901,944.6 907.3,947.7 913.8,950.6 920.4,953.4 927.2,956 934,958.4 941,960.7 948.1,962.8 955.2,964.7 962.5,966.4 969.8,968 977.3,969.4 984.8,970.6 992.4,971.6 1000,972.5 1007.7,973.2 1015.5,973.7 1023.3,974 1031.2,974.2 1039,974.1 1047,973.9 1054.9,973.5 1062.9,972.9 1070.8,972.2 1078.8,971.2 1086.8,970.1 1094.7,968.8 1102.7,967.4 1110.6,965.7 1118.5,963.9 1126.4,961.9 1134.2,959.8 1142,957.4 1149.7,954.9 1157.4,952.3 1165,949.4 1172.5,946.5 1180,943.3 1187.3,940 1194.6,936.6 1201.8,933 1208.9,929.2 1215.9,925.3 1222.8,921.3 1229.6,917.1 1236.3,912.8 1242.8,908.3 1249.2,903.8 1255.4,899.1 1261.6,894.2 1267.5,889.3 1273.4,884.2 1279,879.1 1289,889.7 1274.7,902.5 1259.9,914.7 1244.7,926.3 1229,937.3 1212.9,947.6 1196.4,957.3 1179.5,966.4 1162.3,974.7 1144.8,982.4 1126.9,989.3 1108.8,995.6 1090.5,1001.1 1072,1005.9 1053.2,1009.9 1034.4,1013.2 1015.4,1015.7 996.3,1017.5 977.2,1018.5 958.1,1018.7 938.9,1018.2 919.8,1016.9 900.8,1014.9 881.8,1012.1 884.5,996.4 876.9,995 869.3,993.4 861.7,991.7 854.2,989.7 846.6,987.6 839,985.3 831.5,982.8 824,980.1 816.5,977.2 809,974.2 801.6,971 794.3,967.6 787,964 779.8,960.3 772.6,956.4 765.5,952.3 758.5,948.1 751.6,943.8 744.7,939.2 738,934.6 731.4,929.7 724.8,924.8 718.4,919.7 712.1,914.5 705.9,909.1 699.9,903.7 693.9,898.1 688.1,892.3 682.5,886.5 677,880.6 671.6,874.6 666.4,868.4 661.4,862.2 656.5,855.9 651.8,849.5 647.3,843.1 642.9,836.5 638.7,829.9 634.7,823.3 630.8,816.6 627.2,809.8 623.7,803 620.5,796.1 617.4,789.3 614.5,782.3 611.9,775.4 609.4,768.4 607.1,761.5 605.1,754.5 603.2,747.5 601.5,740.6 600.1,733.6 598.9,726.6 597.9,719.7 597.1,712.8 596.5,706 596.1,699.1 595.9,692.3 596,685.6 596.2,678.9 596.7,672.3 597.4,665.7 598.3,659.2 599.4,652.8 600.7,646.5 602.3,640.2 604,634.1 606,628 608.1,622 610.5,616.2 613,610.4 615.8,604.8 618.8,599.2 621.9,593.8 625.3,588.6 628.8,583.4 632.6,578.4 636.5,573.5 640.6,568.8 644.8,564.2 649.3,559.8 653.9,555.5 658.7,551.4 663.7,547.4 668.8,543.6 674,540 679.5,536.5 685,533.2 690.7,530.1 696.6,527.2 702.6,524.4 708.7,521.8 714.9,519.5 721.3,517.2 727.8,515.2 734.3,513.4 741,511.8 747.8,510.3 754.7,509 761.7,508 768.7,507.1 775.8,506.4 783,506 790.3,505.7 797.6,505.6 805,505.7 812.4,506 819.9,506.5 827.4,507.2 834.9,508.1 842.4,509.2 850,510.5 857.6,512 865.2,513.7 872.8,515.5 880.3,517.6 887.9,519.8 895.5,522.2 903,524.8"/>
<polygon fill="#48C1F1" points="961.5,538.8 903,524.8 895.5,522.2 887.9,519.8 880.3,517.6 872.8,515.5 865.2,513.7 857.6,512 850,510.5 842.4,509.2 834.9,508.1 827.4,507.2 819.9,506.5 812.4,506 805,505.7 797.6,505.6 790.3,505.7 783,506 775.8,506.4 768.7,507.1 761.7,508 754.7,509 747.8,510.3 741,511.8 734.3,513.4 727.8,515.2 721.3,517.2 714.9,519.5 708.7,521.8 702.6,524.4 696.6,527.2 690.7,530.1 685,533.2 679.5,536.5 674,540 668.8,543.6 663.7,547.4 658.7,551.4 653.9,555.5 649.3,559.8 644.8,564.2 640.6,568.8 636.5,573.5 632.6,578.4 628.8,583.4 625.3,588.6 621.9,593.8 618.8,599.2 615.8,604.8 613,610.4 610.5,616.2 608.1,622 606,628 604,634.1 602.3,640.2 600.7,646.5 599.4,652.8 598.3,659.2 597.4,665.7 596.7,672.3 596.2,678.9 596,685.6 595.9,692.3 596.1,699.1 596.5,706 597.1,712.8 597.9,719.7 598.9,726.6 600.1,733.6 601.5,740.6 603.2,747.5 605.1,754.5 607.1,761.5 609.4,768.4 611.9,775.4 614.5,782.3 617.4,789.3 620.5,796.1 623.7,803 627.2,809.8 630.8,816.6 634.7,823.3 638.7,829.9 642.9,836.5 647.3,843.1 651.8,849.5 656.5,855.9 661.4,862.2 666.4,868.4 671.6,874.6 677,880.6 682.5,886.5 688.1,892.3 693.9,898.1 699.9,903.7 705.9,909.1 712.1,914.5 718.4,919.7 724.8,924.8 731.4,929.7 738,934.6 744.7,939.2 751.6,943.8 758.5,948.1 765.5,952.3 772.6,956.4 779.8,960.3 787,964 794.3,967.6 801.6,971 809,974.2 816.5,977.2 824,980.1 831.5,982.8 839,985.3 846.6,987.6 854.2,989.7 861.7,991.7 869.3,993.4 876.9,995 884.5,996.4 881.8,1012.1 859.3,1007.7 837,1002.3 815,995.8 793.3,988.3 772,979.8 751.1,970.2 730.7,959.6 710.9,948.1 691.6,935.7 672.9,922.3 654.9,908.1 637.6,893 621,877.1 605.3,860.5 590.3,843.1 576.2,825 562.9,806.2 550.6,786.8 539.2,766.9 528.8,746.5 519.3,725.5 510.9,704.2 503.5,682.5 529.7,674.3 527.6,667.5 525.7,660.7 524,653.9 522.4,647 520.9,640.1 519.6,633.1 518.4,626.1 517.4,619.1 516.5,612 515.8,604.9 515.2,597.9 514.7,590.8 514.5,583.6 514.3,576.5 514.3,569.4 514.5,562.4 514.8,555.3 515.3,548.2 515.9,541.2 516.6,534.2 517.5,527.2 518.6,520.3 519.8,513.4 521.1,506.6 522.6,499.8 524.2,493.1 526,486.4 527.9,479.8 530,473.3 532.2,466.9 534.5,460.5 536.9,454.2 539.5,448 542.3,441.9 545.1,435.9 548.1,430 551.2,424.2 554.5,418.5 557.8,412.9 561.3,407.4 564.9,402.1 568.6,396.9 572.5,391.8 576.4,386.8 580.4,382 584.6,377.3 588.8,372.8 593.2,368.4 597.6,364.1 602.1,360 606.8,356.1 611.5,352.3 616.3,348.6 621.1,345.1 626.1,341.8 631.1,338.7 636.2,335.7 641.3,332.9 646.6,330.2 651.8,327.8 657.2,325.5 662.6,323.4 668,321.4 673.5,319.7 679,318.1 684.5,316.7 690.1,315.5 695.8,314.4 701.4,313.6 707.1,312.9 712.7,312.4 718.4,312.1 724.2,312 729.9,312.1 735.6,312.4 741.3,312.8 747,313.4 752.7,314.3 758.4,315.3 764.1,316.4 769.7,317.8 775.3,319.4 780.9,321.1 786.5,323 792,325.1 797.5,327.3 802.9,329.8 808.3,332.4 813.7,335.2 818.9,338.1 824.2,341.2 829.3,344.5 834.4,348 839.5,351.6 844.4,355.4 849.3,359.3 854.1,363.4 858.8,367.6 863.5,372 868,376.5 872.5,381.1 876.8,385.9 881.1,390.9 885.3,395.9 889.3,401.1 893.3,406.5 897.1,411.9 900.8,417.5 904.4,423.1 907.9,428.9 911.3,434.8 914.6,440.8 917.7,446.9 920.7,453.1 923.6,459.3 926.3,465.7 929,472.1 931.5,478.6 933.8,485.2"/>
</g><g clip-path="url(#c2)">
<polygon fill="#451443" points="961.5,538.8 933.8,485.2 931.5,478.6 929,472.1 926.3,465.7 923.6,459.3 920.7,453.1 917.7,446.9 914.6,440.8 911.3,434.8 907.9,428.9 904.4,423.1 900.8,417.5 897.1,411.9 893.3,406.5 889.3,401.1 885.3,395.9 881.1,390.9 876.8,385.9 872.5,381.1 868,376.5 863.5,372 858.8,367.6 854.1,363.4 849.3,359.3 844.4,355.4 839.5,351.6 834.4,348 829.3,344.5 824.2,341.2 818.9,338.1 813.7,335.2 808.3,332.4 802.9,329.8 797.5,327.3 792,325.1 786.5,323 780.9,321.1 775.3,319.4 769.7,317.8 764.1,316.4 758.4,315.3 752.7,314.3 747,313.4 741.3,312.8 735.6,312.4 729.9,312.1 724.2,312 718.4,312.1 712.7,312.4 707.1,312.9 701.4,313.6 695.8,314.4 690.1,315.5 684.5,316.7 679,318.1 673.5,319.7 668,321.4 662.6,323.4 657.2,325.5 651.8,327.8 646.6,330.2 641.3,332.9 636.2,335.7 631.1,338.7 626.1,341.8 621.1,345.1 616.3,348.6 611.5,352.3 606.8,356.1 602.1,360 597.6,364.1 593.2,368.4 588.8,372.8 584.6,377.3 580.4,382 576.4,386.8 572.5,391.8 568.6,396.9 564.9,402.1 561.3,407.4 557.8,412.9 554.5,418.5 551.2,424.2 548.1,430 545.1,435.9 542.3,441.9 539.5,448 536.9,454.2 534.5,460.5 532.2,466.9 530,473.3 527.9,479.8 526,486.4 524.2,493.1 522.6,499.8 521.1,506.6 519.8,513.4 518.6,520.3 517.5,527.2 516.6,534.2 515.9,541.2 515.3,548.2 514.8,555.3 514.5,562.4 514.3,569.4 514.3,576.5 514.5,583.6 514.7,590.8 515.2,597.9 515.8,604.9 516.5,612 517.4,619.1 518.4,626.1 519.6,633.1 520.9,640.1 522.4,647 524,653.9 525.7,660.7 527.6,667.5 529.7,674.3 503.5,682.5 499.3,668.4 495.6,654.2 492.3,640 489.4,625.6 487,611.2 485,596.6 483.5,582.1 482.4,567.4 481.7,552.8 481.5,538.2 481.7,523.5 482.4,508.9 483.6,494.3 485.1,479.7 487.2,465.2 489.6,450.7 492.5,436.4 495.9,422.1 499.7,407.9 503.9,393.9 508.5,380 513.6,366.3 519,352.7 528.3,356.6 531.4,349.6 534.6,342.7 538,335.8 541.6,329 545.3,322.2 549.3,315.5 553.4,308.8 557.7,302.3 562.2,295.7 566.8,289.3 571.6,283 576.5,276.7 581.6,270.5 586.9,264.4 592.3,258.5 597.8,252.6 603.5,246.9 609.3,241.2 615.3,235.7 621.3,230.3 627.5,225.1 633.8,220 640.2,215 646.7,210.1 653.3,205.4 660,200.9 666.8,196.5 673.7,192.3 680.6,188.2 687.6,184.3 694.7,180.5 701.9,177 709.1,173.6 716.3,170.3 723.6,167.3 730.9,164.4 738.3,161.8 745.7,159.3 753.1,156.9 760.5,154.8 767.9,152.9 775.3,151.1 782.8,149.6 790.2,148.2 797.6,147.1 804.9,146.1 812.3,145.4 819.6,144.8 826.9,144.4 834.1,144.2 841.3,144.3 848.4,144.5 855.5,144.9 862.5,145.5 869.4,146.4 876.3,147.4 883,148.6 889.7,150 896.3,151.6 902.7,153.4 909.1,155.4 915.4,157.6 921.5,159.9 927.6,162.5 933.5,165.2 939.2,168.1 944.9,171.2 950.4,174.5 955.7,177.9 960.9,181.6 966,185.3 970.9,189.3 975.7,193.4 980.2,197.7 984.7,202.1 988.9,206.7 993,211.4 996.9,216.3 1000.6,221.3 1004.1,226.5 1007.5,231.8 1010.6,237.2 1013.6,242.8 1016.4,248.4 1019,254.2 1021.3,260.1 1023.5,266.1 1025.5,272.2 1027.3,278.4 1028.9,284.7 1030.2,291.1 1031.4,297.5 1032.4,304.1 1033.1,310.7 1033.7,317.3 1034,324.1 1034.1,330.9 1034,337.7 1033.8,344.6 1033.2,351.5 1032.5,358.5 1031.6,365.5 1030.5,372.5 1029.2,379.5 1027.6,386.6 1025.9,393.6 1023.9,400.7 1021.8,407.7 1019.4,414.7 1016.9,421.7 1014.2,428.7 1011.2,435.7 1008.1,442.6 1004.8,449.5 1001.3,456.4 997.6,463.2 993.8,469.9 989.7,476.6 985.5,483.2"/>
<polygon fill="#8F1766" points="961.5,538.8 985.5,483.2 989.7,476.6 993.8,469.9 997.6,463.2 1001.3,456.4 1004.8,449.5 1008.1,442.6 1011.2,435.7 1014.2,428.7 1016.9,421.7 1019.4,414.7 1021.8,407.7 1023.9,400.7 1025.9,393.6 1027.6,386.6 1029.2,379.5 1030.5,372.5 1031.6,365.5 1032.5,358.5 1033.2,351.5 1033.8,344.6 1034,337.7 1034.1,330.9 1034,324.1 1033.7,317.3 1033.1,310.7 1032.4,304.1 1031.4,297.5 1030.2,291.1 1028.9,284.7 1027.3,278.4 1025.5,272.2 1023.5,266.1 1021.3,260.1 1019,254.2 1016.4,248.4 1013.6,242.8 1010.6,237.2 1007.5,231.8 1004.1,226.5 1000.6,221.3 996.9,216.3 993,211.4 988.9,206.7 984.7,202.1 980.2,197.7 975.7,193.4 970.9,189.3 966,185.3 960.9,181.6 955.7,177.9 950.4,174.5 944.9,171.2 939.2,168.1 933.5,165.2 927.6,162.5 921.5,159.9 915.4,157.6 909.1,155.4 902.7,153.4 896.3,151.6 889.7,150 883,148.6 876.3,147.4 869.4,146.4 862.5,145.5 855.5,144.9 848.4,144.5 841.3,144.3 834.1,144.2 826.9,144.4 819.6,144.8 812.3,145.4 804.9,146.1 797.6,147.1 790.2,148.2 782.8,149.6 775.3,151.1 767.9,152.9 760.5,154.8 753.1,156.9 745.7,159.3 738.3,161.8 730.9,164.4 723.6,167.3 716.3,170.3 709.1,173.6 701.9,177 694.7,180.5 687.6,184.3 680.6,188.2 673.7,192.3 666.8,196.5 660,200.9 653.3,205.4 646.7,210.1 640.2,215 633.8,220 627.5,225.1 621.3,230.3 615.3,235.7 609.3,241.2 603.5,246.9 597.8,252.6 592.3,258.5 586.9,264.4 581.6,270.5 576.5,276.7 571.6,283 566.8,289.3 562.2,295.7 557.7,302.3 553.4,308.8 549.3,315.5 545.3,322.2 541.6,329 538,335.8 534.6,342.7 531.4,349.6 528.3,356.6 519,352.7 526.6,335.6 534.9,318.8 543.8,302.3 553.3,286.2 563.5,270.5 574.2,255.2 585.6,240.3 597.5,225.9 609.9,211.9 622.9,198.5 636.5,185.5 650.5,173.1 665,161.3 679.9,150 695.3,139.4 711,129.3 727.2,119.8 743.7,111 760.5,102.9 777.7,95.4 795.1,88.5 812.7,82.4 830.6,76.9 834,88.7 841.3,86.7 848.7,84.9 856.2,83.3 863.8,81.8 871.4,80.5 879.2,79.4 886.9,78.5 894.7,77.7 902.6,77.1 910.5,76.7 918.4,76.4 926.4,76.4 934.4,76.5 942.4,76.8 950.4,77.3 958.4,77.9 966.4,78.7 974.4,79.7 982.3,80.9 990.3,82.3 998.2,83.8 1006.1,85.5 1013.9,87.3 1021.7,89.4 1029.5,91.6 1037.1,93.9 1044.8,96.5 1052.3,99.2 1059.8,102 1067.1,105 1074.4,108.2 1081.6,111.5 1088.7,115 1095.7,118.6 1102.6,122.4 1109.3,126.2 1116,130.3 1122.5,134.5 1128.9,138.8 1135.1,143.2 1141.2,147.8 1147.1,152.4 1152.9,157.2 1158.6,162.2 1164,167.2 1169.4,172.3 1174.5,177.5 1179.5,182.9 1184.3,188.3 1188.9,193.8 1193.3,199.4 1197.5,205.1 1201.6,210.9 1205.4,216.7 1209.1,222.6 1212.5,228.5 1215.8,234.6 1218.8,240.6 1221.6,246.8 1224.2,252.9 1226.6,259.1 1228.8,265.4 1230.8,271.6 1232.6,277.9 1234.1,284.2 1235.4,290.6 1236.5,296.9 1237.4,303.3 1238.1,309.6 1238.5,315.9 1238.7,322.3 1238.7,328.6 1238.4,334.9 1238,341.1 1237.3,347.4 1236.4,353.6 1235.2,359.7 1233.9,365.9 1232.3,371.9 1230.5,377.9 1228.5,383.9 1226.3,389.8 1223.8,395.6 1221.2,401.4 1218.3,407.1 1215.2,412.7 1211.9,418.2 1208.5,423.6 1204.8,428.9 1200.9,434.1 1196.8,439.3 1192.6,444.3 1188.1,449.2 1183.5,454 1178.7,458.7 1173.7,463.2 1168.5,467.6 1163.1,471.9 1157.6,476.1 1152,480.1 1146.2,484 1140.2,487.8 1134.1,491.4 1127.8,494.8 1121.4,498.2 1114.9,501.3 1108.2,504.3 1101.5,507.2 1094.6,509.8 1087.6,512.4 1080.4,514.7 1073.2,516.9 1065.9,518.9 1058.5,520.8 1051.1,522.5 1043.5,524 1035.9,525.3 1028.2,526.5 1020.4,527.5"/>
<polygon fill="#6F0E34" points="961.5,538.8 1020.4,527.5 1028.2,526.5 1035.9,525.3 1043.5,524 1051.1,522.5 1058.5,520.8 1065.9,518.9 1073.2,516.9 1080.4,514.7 1087.6,512.4 1094.6,509.8 1101.5,507.2 1108.2,504.3 1114.9,501.3 1121.4,498.2 1127.8,494.8 1134.1,491.4 1140.2,487.8 1146.2,484 1152,480.1 1157.6,476.1 1163.1,471.9 1168.5,467.6 1173.7,463.2 1178.7,458.7 1183.5,454 1188.1,449.2 1192.6,444.3 1196.8,439.3 1200.9,434.1 1204.8,428.9 1208.5,423.6 1211.9,418.2 1215.2,412.7 1218.3,407.1 1221.2,401.4 1223.8,395.6 1226.3,389.8 1228.5,383.9 1230.5,377.9 1232.3,371.9 1233.9,365.9 1235.2,359.7 1236.4,353.6 1237.3,347.4 1238,341.1 1238.4,334.9 1238.7,328.6 1238.7,322.3 1238.5,315.9 1238.1,309.6 1237.4,303.3 1236.5,296.9 1235.4,290.6 1234.1,284.2 1232.6,277.9 1230.8,271.6 1228.8,265.4 1226.6,259.1 1224.2,252.9 1221.6,246.8 1218.8,240.6 1215.8,234.6 1212.5,228.5 1209.1,222.6 1205.4,216.7 1201.6,210.9 1197.5,205.1 1193.3,199.4 1188.9,193.8 1184.3,188.3 1179.5,182.9 1174.5,177.5 1169.4,172.3 1164,167.2 1158.6,162.2 1152.9,157.2 1147.1,152.4 1141.2,147.8 1135.1,143.2 1128.9,138.8 1122.5,134.5 1116,130.3 1109.3,126.2 1102.6,122.4 1095.7,118.6 1088.7,115 1081.6,111.5 1074.4,108.2 1067.1,105 1059.8,102 1052.3,99.2 1044.8,96.5 1037.1,93.9 1029.5,91.6 1021.7,89.4 1013.9,87.3 1006.1,85.5 998.2,83.8 990.3,82.3 982.3,80.9 974.4,79.7 966.4,78.7 958.4,77.9 950.4,77.3 942.4,76.8 934.4,76.5 926.4,76.4 918.4,76.4 910.5,76.7 902.6,77.1 894.7,77.7 886.9,78.5 879.2,79.4 871.4,80.5 863.8,81.8 856.2,83.3 848.7,84.9 841.3,86.7 834,88.7 830.6,76.9 848.7,72.2 867,68.1 885.4,64.8 903.9,62.2 922.5,60.3 941.2,59.2 959.8,58.8 978.5,59.1 997.2,60.1 1015.8,61.8 1034.4,64.3 1052.8,67.5 1071.1,71.4 1089.2,76 1107.1,81.4 1124.8,87.4 1142.3,94.1 1159.4,101.5 1176.3,109.5 1192.9,118.2 1209.1,127.5 1224.9,137.5 1240.3,148 1228.3,164.8 1234.6,169.5 1240.9,174.2 1247,179.2 1253.1,184.3 1259,189.5 1264.9,194.9 1270.6,200.5 1276.3,206.2 1281.9,212 1287.3,218 1292.6,224.1 1297.8,230.3 1302.9,236.7 1307.8,243.1 1312.6,249.7 1317.2,256.4 1321.8,263.2 1326.1,270.1 1330.4,277 1334.4,284.1 1338.3,291.2 1342.1,298.4 1345.7,305.7 1349.1,313 1352.4,320.4 1355.5,327.9 1358.4,335.4 1361.2,342.9 1363.8,350.5 1366.2,358 1368.4,365.7 1370.4,373.3 1372.3,380.9 1374,388.6 1375.5,396.2 1376.8,403.9 1377.9,411.5 1378.8,419.1 1379.6,426.7 1380.1,434.3 1380.5,441.8 1380.6,449.3 1380.6,456.7 1380.4,464.1 1380,471.4 1379.4,478.7 1378.6,485.8 1377.7,493 1376.5,500 1375.2,506.9 1373.6,513.8 1371.9,520.5 1370,527.2 1367.9,533.7 1365.7,540.2 1363.2,546.5 1360.6,552.7 1357.8,558.8 1354.9,564.7 1351.7,570.5 1348.4,576.2 1345,581.7 1341.3,587.1 1337.5,592.3 1333.6,597.3 1329.5,602.2 1325.2,607 1320.8,611.5 1316.3,615.9 1311.6,620.2 1306.8,624.2 1301.8,628.1 1296.7,631.7 1291.5,635.2 1286.1,638.5 1280.7,641.6 1275.1,644.6 1269.4,647.3 1263.7,649.8 1257.8,652.1 1251.8,654.2 1245.7,656.1 1239.6,657.8 1233.3,659.3 1227,660.6 1220.6,661.7 1214.1,662.6 1207.6,663.2 1201,663.7 1194.4,663.9 1187.7,663.9 1181,663.7 1174.2,663.3 1167.4,662.7 1160.6,661.9 1153.8,660.9 1146.9,659.6 1140.1,658.2 1133.2,656.5 1126.3,654.7 1119.4,652.6 1112.6,650.3 1105.7,647.9 1098.9,645.2 1092.1,642.3 1085.3,639.3 1078.6,636 1071.9,632.5 1065.3,628.9 1058.7,625.1 1052.1,621.1 1045.6,616.9 1039.2,612.6 1032.9,608 1026.6,603.3 1020.4,598.5 1014.3,593.4 1008.3,588.3 1002.4,582.9"/>
<polygon fill="#8A5414" points="961.5,538.8 1002.4,582.9 1008.3,588.3 1014.3,593.4 1020.4,598.5 1026.6,603.3 1032.9,608 1039.2,612.6 1045.6,616.9 1052.1,621.1 1058.7,625.1 1065.3,628.9 1071.9,632.5 1078.6,636 1085.3,639.3 1092.1,642.3 1098.9,645.2 1105.7,647.9 1112.6,650.3 1119.4,652.6 1126.3,654.7 1133.2,656.5 1140.1,658.2 1146.9,659.6 1153.8,660.9 1160.6,661.9 1167.4,662.7 1174.2,663.3 1181,663.7 1187.7,663.9 1194.4,663.9 1201,663.7 1207.6,663.2 1214.1,662.6 1220.6,661.7 1227,660.6 1233.3,659.3 1239.6,657.8 1245.7,656.1 1251.8,654.2 1257.8,652.1 1263.7,649.8 1269.4,647.3 1275.1,644.6 1280.7,641.6 1286.1,638.5 1291.5,635.2 1296.7,631.7 1301.8,628.1 1306.8,624.2 1311.6,620.2 1316.3,615.9 1320.8,611.5 1325.2,607 1329.5,602.2 1333.6,597.3 1337.5,592.3 1341.3,587.1 1345,581.7 1348.4,576.2 1351.7,570.5 1354.9,564.7 1357.8,558.8 1360.6,552.7 1363.2,546.5 1365.7,540.2 1367.9,533.7 1370,527.2 1371.9,520.5 1373.6,513.8 1375.2,506.9 1376.5,500 1377.7,493 1378.6,485.8 1379.4,478.7 1380,471.4 1380.4,464.1 1380.6,456.7 1380.6,449.3 1380.5,441.8 1380.1,434.3 1379.6,426.7 1378.8,419.1 1377.9,411.5 1376.8,403.9 1375.5,396.2 1374,388.6 1372.3,380.9 1370.4,373.3 1368.4,365.7 1366.2,358 1363.8,350.5 1361.2,342.9 1358.4,335.4 1355.5,327.9 1352.4,320.4 1349.1,313 1345.7,305.7 1342.1,298.4 1338.3,291.2 1334.4,284.1 1330.4,277 1326.1,270.1 1321.8,263.2 1317.2,256.4 1312.6,249.7 1307.8,243.1 1302.9,236.7 1297.8,230.3 1292.6,224.1 1287.3,218 1281.9,212 1276.3,206.2 1270.6,200.5 1264.9,194.9 1259,189.5 1253.1,184.3 1247,179.2 1240.9,174.2 1234.6,169.5 1228.3,164.8 1240.3,148 1254.9,158.8 1269,170.1 1282.6,182 1295.8,194.3 1308.6,207.2 1320.8,220.5 1332.6,234.3 1343.8,248.5 1354.4,263.1 1364.6,278.1 1374.1,293.5 1383,309.2 1391.4,325.2 1399.1,341.6 1406.3,358.2 1412.7,375.1 1418.6,392.2 1423.8,409.5 1428.3,427.1 1432.2,444.7 1435.4,462.5 1437.9,480.4 1439.8,498.4 1425.3,499.7 1425.9,507.3 1426.2,515 1426.4,522.8 1426.4,530.6 1426.2,538.4 1425.9,546.2 1425.3,554.1 1424.6,562 1423.7,569.9 1422.6,577.8 1421.4,585.8 1419.9,593.7 1418.3,601.5 1416.5,609.4 1414.5,617.3 1412.4,625.1 1410.1,632.8 1407.6,640.6 1404.9,648.2 1402.1,655.8 1399.1,663.4 1396,670.9 1392.7,678.3 1389.2,685.6 1385.6,692.9 1381.9,700 1378,707.1 1373.9,714 1369.7,720.9 1365.4,727.6 1360.9,734.2 1356.3,740.7 1351.6,747 1346.7,753.3 1341.8,759.3 1336.7,765.3 1331.5,771.1 1326.2,776.7 1320.8,782.2 1315.3,787.5 1309.7,792.7 1304,797.6 1298.2,802.4 1292.3,807.1 1286.4,811.5 1280.4,815.8 1274.3,819.9 1268.2,823.7 1262,827.4 1255.7,830.9 1249.4,834.2 1243,837.3 1236.7,840.2 1230.2,842.9 1223.8,845.3 1217.3,847.6 1210.8,849.6 1204.3,851.4 1197.8,853.1 1191.3,854.5 1184.8,855.6 1178.3,856.6 1171.8,857.3 1165.3,857.8 1158.8,858.1 1152.4,858.2 1146,858.1 1139.7,857.7 1133.3,857.1 1127.1,856.3 1120.8,855.2 1114.7,854 1108.6,852.5 1102.6,850.8 1096.6,848.9 1090.7,846.8 1084.9,844.5 1079.2,842 1073.5,839.2 1068,836.3 1062.6,833.1 1057.2,829.7 1052,826.2 1046.9,822.4 1041.9,818.5 1037,814.3 1032.3,810 1027.6,805.5 1023.1,800.8 1018.7,795.9 1014.5,790.9 1010.4,785.7 1006.5,780.3 1002.7,774.8 999,769.1 995.5,763.2 992.2,757.3 989,751.1 985.9,744.9 983.1,738.5 980.4,731.9 977.8,725.3 975.5,718.5 973.3,711.6 971.3,704.6 969.4,697.6 967.8,690.4 966.3,683.1 964.9,675.7 963.8,668.3 962.8,660.8 962.1,653.2 961.5,645.6 961.1,637.9 960.8,630.1 960.8,622.4 960.9,614.5 961.2,606.7 961.7,598.8"/>
<polygon fill="#767518" points="961.5,538.8 961.7,598.8 961.2,606.7 960.9,614.5 960.8,622.4 960.8,630.1 961.1,637.9 961.5,645.6 962.1,653.2 962.8,660.8 963.8,668.3 964.9,675.7 966.3,683.1 967.8,690.4 969.4,697.6 971.3,704.6 973.3,711.6 975.5,718.5 977.8,725.3 980.4,731.9 983.1,738.5 985.9,744.9 989,751.1 992.2,757.3 995.5,763.2 999,769.1 1002.7,774.8 1006.5,780.3 1010.4,785.7 1014.5,790.9 1018.7,795.9 1023.1,800.8 1027.6,805.5 1032.3,810 1037,814.3 1041.9,818.5 1046.9,822.4 1052,826.2 1057.2,829.7 1062.6,833.1 1068,836.3 1073.5,839.2 1079.2,842 1084.9,844.5 1090.7,846.8 1096.6,848.9 1102.6,850.8 1108.6,852.5 1114.7,854 1120.8,855.2 1127.1,856.3 1133.3,857.1 1139.7,857.7 1146,858.1 1152.4,858.2 1158.8,858.1 1165.3,857.8 1171.8,857.3 1178.3,856.6 1184.8,855.6 1191.3,854.5 1197.8,853.1 1204.3,851.4 1210.8,849.6 1217.3,847.6 1223.8,845.3 1230.2,842.9 1236.7,840.2 1243,837.3 1249.4,834.2 1255.7,830.9 1262,827.4 1268.2,823.7 1274.3,819.9 1280.4,815.8 1286.4,811.5 1292.3,807.1 1298.2,802.4 1304,797.6 1309.7,792.7 1315.3,787.5 1320.8,782.2 1326.2,776.7 1331.5,771.1 1336.7,765.3 1341.8,759.3 1346.7,753.3 1351.6,747 1356.3,740.7 1360.9,734.2 1365.4,727.6 1369.7,720.9 1373.9,714 1378,707.1 1381.9,700 1385.6,692.9 1389.2,685.6 1392.7,678.3 1396,670.9 1399.1,663.4 1402.1,655.8 1404.9,648.2 1407.6,640.6 1410.1,632.8 1412.4,625.1 1414.5,617.3 1416.5,609.4 1418.3,601.5 1419.9,593.7 1421.4,585.8 1422.6,577.8 1423.7,569.9 1424.6,562 1425.3,554.1 1425.9,546.2 1426.2,538.4 1426.4,530.6 1426.4,522.8 1426.2,515 1425.9,507.3 1425.3,499.7 1439.8,498.4 1441,517.3 1441.5,536.1 1441.2,555 1440.2,573.8 1438.5,592.6 1436,611.3 1432.8,629.9 1428.8,648.4 1424.1,666.6 1418.8,684.7 1412.7,702.6 1405.9,720.2 1398.4,737.5 1390.3,754.5 1381.5,771.2 1372,787.5 1361.9,803.5 1351.2,819 1339.9,834.1 1328,848.7 1315.5,862.9 1302.5,876.6 1289,889.7 1279,879.1 1273.4,884.2 1267.5,889.3 1261.6,894.2 1255.4,899.1 1249.2,903.8 1242.8,908.3 1236.3,912.8 1229.6,917.1 1222.8,921.3 1215.9,925.3 1208.9,929.2 1201.8,933 1194.6,936.6 1187.3,940 1180,943.3 1172.5,946.5 1165,949.4 1157.4,952.3 1149.7,954.9 1142,957.4 1134.2,959.8 1126.4,961.9 1118.5,963.9 1110.6,965.7 1102.7,967.4 1094.7,968.8 1086.8,970.1 1078.8,971.2 1070.8,972.2 1062.9,972.9 1054.9,973.5 1047,973.9 1039,974.1 1031.2,974.2 1023.3,974 1015.5,973.7 1007.7,973.2 1000,972.5 992.4,971.6 984.8,970.6 977.3,969.4 969.8,968 962.5,966.4 955.2,964.7 948.1,962.8 941,960.7 934,958.4 927.2,956 920.4,953.4 913.8,950.6 907.3,947.7 901,944.6 894.8,941.4 888.7,938 882.8,934.5 877,930.8 871.4,926.9 865.9,922.9 860.6,918.8 855.5,914.6 850.6,910.2 845.8,905.7 841.2,901 836.8,896.2 832.5,891.3 828.5,886.3 824.7,881.2 821,876 817.6,870.6 814.3,865.2 811.3,859.7 808.5,854.1 805.9,848.4 803.5,842.6 801.3,836.7 799.3,830.8 797.5,824.8 796,818.7 794.7,812.6 793.6,806.4 792.7,800.2 792,793.9 791.6,787.6 791.4,781.3 791.4,774.9 791.6,768.5 792.1,762.1 792.8,755.7 793.7,749.2 794.8,742.8 796.1,736.3 797.7,729.9 799.5,723.5 801.5,717.1 803.7,710.7 806.1,704.3 808.7,698 811.6,691.7 814.6,685.4 817.9,679.2 821.4,673 825,666.9 828.9,660.9 832.9,654.9 837.2,649 841.6,643.2 846.2,637.4 851,631.8 856,626.2 861.1,620.7 866.4,615.3 871.9,610 877.5,604.8 883.3,599.7 889.3,594.7 895.4,589.9 901.6,585.2 907.9,580.6 914.4,576.1"/>
<polygon fill="#1A4D21" points="961.5,538.8 914.4,576.1 907.9,580.6 901.6,585.2 895.4,589.9 889.3,594.7 883.3,599.7 877.5,604.8 871.9,610 866.4,615.3 861.1,620.7 856,626.2 851,631.8 846.2,637.4 841.6,643.2 837.2,649 832.9,654.9 828.9,660.9 825,666.9 821.4,673 817.9,679.2 814.6,685.4 811.6,691.7 808.7,698 806.1,704.3 803.7,710.7 801.5,717.1 799.5,723.5 797.7,729.9 796.1,736.3 794.8,742.8 793.7,749.2 792.8,755.7 792.1,762.1 791.6,768.5 791.4,774.9 791.4,781.3 791.6,787.6 792,793.9 792.7,800.2 793.6,806.4 794.7,812.6 796,818.7 797.5,824.8 799.3,830.8 801.3,836.7 803.5,842.6 805.9,848.4 808.5,854.1 811.3,859.7 814.3,865.2 817.6,870.6 821,876 824.7,881.2 828.5,886.3 832.5,891.3 836.8,896.2 841.2,901 845.8,905.7 850.6,910.2 855.5,914.6 860.6,918.8 865.9,922.9 871.4,926.9 877,930.8 882.8,934.5 888.7,938 894.8,941.4 901,944.6 907.3,947.7 913.8,950.6 920.4,953.4 927.2,956 934,958.4 941,960.7 948.1,962.8 955.2,964.7 962.5,966.4 969.8,968 977.3,969.4 984.8,970.6 992.4,971.6 1000,972.5 1007.7,973.2 1015.5,973.7 1023.3,974 1031.2,974.2 1039,974.1 1047,973.9 1054.9,973.5 1062.9,972.9 1070.8,972.2 1078.8,971.2 1086.8,970.1 1094.7,968.8 1102.7,967.4 1110.6,965.7 1118.5,963.9 1126.4,961.9 1134.2,959.8 1142,957.4 1149.7,954.9 1157.4,952.3 1165,949.4 1172.5,946.5 1180,943.3 1187.3,940 1194.6,936.6 1201.8,933 1208.9,929.2 1215.9,925.3 1222.8,921.3 1229.6,917.1 1236.3,912.8 1242.8,908.3 1249.2,903.8 1255.4,899.1 1261.6,894.2 1267.5,889.3 1273.4,884.2 1279,879.1 1289,889.7 1274.7,902.5 1259.9,914.7 1244.7,926.3 1229,937.3 1212.9,947.6 1196.4,957.3 1179.5,966.4 1162.3,974.7 1144.8,982.4 1126.9,989.3 1108.8,995.6 1090.5,1001.1 1072,1005.9 1053.2,1009.9 1034.4,1013.2 1015.4,1015.7 996.3,1017.5 977.2,1018.5 958.1,1018.7 938.9,1018.2 919.8,1016.9 900.8,1014.9 881.8,1012.1 884.5,996.4 876.9,995 869.3,993.4 861.7,991.7 854.2,989.7 846.6,987.6 839,985.3 831.5,982.8 824,980.1 816.5,977.2 809,974.2 801.6,971 794.3,967.6 787,964 779.8,960.3 772.6,956.4 765.5,952.3 758.5,948.1 751.6,943.8 744.7,939.2 738,934.6 731.4,929.7 724.8,924.8 718.4,919.7 712.1,914.5 705.9,909.1 699.9,903.7 693.9,898.1 688.1,892.3 682.5,886.5 677,880.6 671.6,874.6 666.4,868.4 661.4,862.2 656.5,855.9 651.8,849.5 647.3,843.1 642.9,836.5 638.7,829.9 634.7,823.3 630.8,816.6 627.2,809.8 623.7,803 620.5,796.1 617.4,789.3 614.5,782.3 611.9,775.4 609.4,768.4 607.1,761.5 605.1,754.5 603.2,747.5 601.5,740.6 600.1,733.6 598.9,726.6 597.9,719.7 597.1,712.8 596.5,706 596.1,699.1 595.9,692.3 596,685.6 596.2,678.9 596.7,672.3 597.4,665.7 598.3,659.2 599.4,652.8 600.7,646.5 602.3,640.2 604,634.1 606,628 608.1,622 610.5,616.2 613,610.4 615.8,604.8 618.8,599.2 621.9,593.8 625.3,588.6 628.8,583.4 632.6,578.4 636.5,573.5 640.6,568.8 644.8,564.2 649.3,559.8 653.9,555.5 658.7,551.4 663.7,547.4 668.8,543.6 674,540 679.5,536.5 685,533.2 690.7,530.1 696.6,527.2 702.6,524.4 708.7,521.8 714.9,519.5 721.3,517.2 727.8,515.2 734.3,513.4 741,511.8 747.8,510.3 754.7,509 761.7,508 768.7,507.1 775.8,506.4 783,506 790.3,505.7 797.6,505.6 805,505.7 812.4,506 819.9,506.5 827.4,507.2 834.9,508.1 842.4,509.2 850,510.5 857.6,512 865.2,513.7 872.8,515.5 880.3,517.6 887.9,519.8 895.5,522.2 903,524.8"/>
<polygon fill="#2A708E" points="961.5,538.8 903,524.8 895.5,522.2 887.9,519.8 880.3,517.6 872.8,515.5 865.2,513.7 857.6,512 850,510.5 842.4,509.2 834.9,508.1 827.4,507.2 819.9,506.5 812.4,506 805,505.7 797.6,505.6 790.3,505.7 783,506 775.8,506.4 768.7,507.1 761.7,508 754.7,509 747.8,510.3 741,511.8 734.3,513.4 727.8,515.2 721.3,517.2 714.9,519.5 708.7,521.8 702.6,524.4 696.6,527.2 690.7,530.1 685,533.2 679.5,536.5 674,540 668.8,543.6 663.7,547.4 658.7,551.4 653.9,555.5 649.3,559.8 644.8,564.2 640.6,568.8 636.5,573.5 632.6,578.4 628.8,583.4 625.3,588.6 621.9,593.8 618.8,599.2 615.8,604.8 613,610.4 610.5,616.2 608.1,622 606,628 604,634.1 602.3,640.2 600.7,646.5 599.4,652.8 598.3,659.2 597.4,665.7 596.7,672.3 596.2,678.9 596,685.6 595.9,692.3 596.1,699.1 596.5,706 597.1,712.8 597.9,719.7 598.9,726.6 600.1,733.6 601.5,740.6 603.2,747.5 605.1,754.5 607.1,761.5 609.4,768.4 611.9,775.4 614.5,782.3 617.4,789.3 620.5,796.1 623.7,803 627.2,809.8 630.8,816.6 634.7,823.3 638.7,829.9 642.9,836.5 647.3,843.1 651.8,849.5 656.5,855.9 661.4,862.2 666.4,868.4 671.6,874.6 677,880.6 682.5,886.5 688.1,892.3 693.9,898.1 699.9,903.7 705.9,909.1 712.1,914.5 718.4,919.7 724.8,924.8 731.4,929.7 738,934.6 744.7,939.2 751.6,943.8 758.5,948.1 765.5,952.3 772.6,956.4 779.8,960.3 787,964 794.3,967.6 801.6,971 809,974.2 816.5,977.2 824,980.1 831.5,982.8 839,985.3 846.6,987.6 854.2,989.7 861.7,991.7 869.3,993.4 876.9,995 884.5,996.4 881.8,1012.1 859.3,1007.7 837,1002.3 815,995.8 793.3,988.3 772,979.8 751.1,970.2 730.7,959.6 710.9,948.1 691.6,935.7 672.9,922.3 654.9,908.1 637.6,893 621,877.1 605.3,860.5 590.3,843.1 576.2,825 562.9,806.2 550.6,786.8 539.2,766.9 528.8,746.5 519.3,725.5 510.9,704.2 503.5,682.5 529.7,674.3 527.6,667.5 525.7,660.7 524,653.9 522.4,647 520.9,640.1 519.6,633.1 518.4,626.1 517.4,619.1 516.5,612 515.8,604.9 515.2,597.9 514.7,590.8 514.5,583.6 514.3,576.5 514.3,569.4 514.5,562.4 514.8,555.3 515.3,548.2 515.9,541.2 516.6,534.2 517.5,527.2 518.6,520.3 519.8,513.4 521.1,506.6 522.6,499.8 524.2,493.1 526,486.4 527.9,479.8 530,473.3 532.2,466.9 534.5,460.5 536.9,454.2 539.5,448 542.3,441.9 545.1,435.9 548.1,430 551.2,424.2 554.5,418.5 557.8,412.9 561.3,407.4 564.9,402.1 568.6,396.9 572.5,391.8 576.4,386.8 580.4,382 584.6,377.3 588.8,372.8 593.2,368.4 597.6,364.1 602.1,360 606.8,356.1 611.5,352.3 616.3,348.6 621.1,345.1 626.1,341.8 631.1,338.7 636.2,335.7 641.3,332.9 646.6,330.2 651.8,327.8 657.2,325.5 662.6,323.4 668,321.4 673.5,319.7 679,318.1 684.5,316.7 690.1,315.5 695.8,314.4 701.4,313.6 707.1,312.9 712.7,312.4 718.4,312.1 724.2,312 729.9,312.1 735.6,312.4 741.3,312.8 747,313.4 752.7,314.3 758.4,315.3 764.1,316.4 769.7,317.8 775.3,319.4 780.9,321.1 786.5,323 792,325.1 797.5,327.3 802.9,329.8 808.3,332.4 813.7,335.2 818.9,338.1 824.2,341.2 829.3,344.5 834.4,348 839.5,351.6 844.4,355.4 849.3,359.3 854.1,363.4 858.8,367.6 863.5,372 868,376.5 872.5,381.1 876.8,385.9 881.1,390.9 885.3,395.9 889.3,401.1 893.3,406.5 897.1,411.9 900.8,417.5 904.4,423.1 907.9,428.9 911.3,434.8 914.6,440.8 917.7,446.9 920.7,453.1 923.6,459.3 926.3,465.7 929,472.1 931.5,478.6 933.8,485.2"/>
</g>
<polyline fill="none" stroke="#000" stroke-width="2.7" points="985.5,483.2 989.7,476.6 993.8,469.9 997.6,463.2 1001.3,456.4 1004.8,449.5 1008.1,442.6 1011.2,435.7 1014.2,428.7 1016.9,421.7 1019.4,414.7 1021.8,407.7 1023.9,400.7 1025.9,393.6 1027.6,386.6 1029.2,379.5 1030.5,372.5 1031.6,365.5 1032.5,358.5 1033.2,351.5 1033.8,344.6 1034,337.7 1034.1,330.9 1034,324.1 1033.7,317.3 1033.1,310.7 1032.4,304.1 1031.4,297.5 1030.2,291.1 1028.9,284.7 1027.3,278.4 1025.5,272.2 1023.5,266.1 1021.3,260.1 1019,254.2 1016.4,248.4 1013.6,242.8 1010.6,237.2 1007.5,231.8 1004.1,226.5 1000.6,221.3 996.9,216.3 993,211.4 988.9,206.7 984.7,202.1 980.2,197.7 975.7,193.4 970.9,189.3 966,185.3 960.9,181.6 955.7,177.9 950.4,174.5 944.9,171.2 939.2,168.1 933.5,165.2 927.6,162.5 921.5,159.9 915.4,157.6 909.1,155.4 902.7,153.4 896.3,151.6 889.7,150 883,148.6 876.3,147.4 869.4,146.4 862.5,145.5 855.5,144.9 848.4,144.5 841.3,144.3 834.1,144.2 826.9,144.4 819.6,144.8 812.3,145.4 804.9,146.1 797.6,147.1 790.2,148.2 782.8,149.6 775.3,151.1 767.9,152.9 760.5,154.8 753.1,156.9 745.7,159.3 738.3,161.8 730.9,164.4 723.6,167.3 716.3,170.3 709.1,173.6 701.9,177 694.7,180.5 687.6,184.3 680.6,188.2 673.7,192.3 666.8,196.5 660,200.9 653.3,205.4 646.7,210.1 640.2,215 633.8,220 627.5,225.1 621.3,230.3 615.3,235.7 609.3,241.2 603.5,246.9 597.8,252.6 592.3,258.5 586.9,264.4 581.6,270.5 576.5,276.7 571.6,283 566.8,289.3 562.2,295.7 557.7,302.3 553.4,308.8 549.3,315.5 545.3,322.2 541.6,329 538,335.8 534.6,342.7 531.4,349.6 528.3,356.6"/>
<polyline fill="none" stroke="#000" stroke-width="2.7" points="1020.4,527.5 1028.2,526.5 1035.9,525.3 1043.5,524 1051.1,522.5 1058.5,520.8 1065.9,518.9 1073.2,516.9 1080.4,514.7 1087.6,512.4 1094.6,509.8 1101.5,507.2 1108.2,504.3 1114.9,501.3 1121.4,498.2 1127.8,494.8 1134.1,491.4 1140.2,487.8 1146.2,484 1152,480.1 1157.6,476.1 1163.1,471.9 1168.5,467.6 1173.7,463.2 1178.7,458.7 1183.5,454 1188.1,449.2 1192.6,444.3 1196.8,439.3 1200.9,434.1 1204.8,428.9 1208.5,423.6 1211.9,418.2 1215.2,412.7 1218.3,407.1 1221.2,401.4 1223.8,395.6 1226.3,389.8 1228.5,383.9 1230.5,377.9 1232.3,371.9 1233.9,365.9 1235.2,359.7 1236.4,353.6 1237.3,347.4 1238,341.1 1238.4,334.9 1238.7,328.6 1238.7,322.3 1238.5,315.9 1238.1,309.6 1237.4,303.3 1236.5,296.9 1235.4,290.6 1234.1,284.2 1232.6,277.9 1230.8,271.6 1228.8,265.4 1226.6,259.1 1224.2,252.9 1221.6,246.8 1218.8,240.6 1215.8,234.6 1212.5,228.5 1209.1,222.6 1205.4,216.7 1201.6,210.9 1197.5,205.1 1193.3,199.4 1188.9,193.8 1184.3,188.3 1179.5,182.9 1174.5,177.5 1169.4,172.3 1164,167.2 1158.6,162.2 1152.9,157.2 1147.1,152.4 1141.2,147.8 1135.1,143.2 1128.9,138.8 1122.5,134.5 1116,130.3 1109.3,126.2 1102.6,122.4 1095.7,118.6 1088.7,115 1081.6,111.5 1074.4,108.2 1067.1,105 1059.8,102 1052.3,99.2 1044.8,96.5 1037.1,93.9 1029.5,91.6 1021.7,89.4 1013.9,87.3 1006.1,85.5 998.2,83.8 990.3,82.3 982.3,80.9 974.4,79.7 966.4,78.7 958.4,77.9 950.4,77.3 942.4,76.8 934.4,76.5 926.4,76.4 918.4,76.4 910.5,76.7 902.6,77.1 894.7,77.7 886.9,78.5 879.2,79.4 871.4,80.5 863.8,81.8 856.2,83.3 848.7,84.9 841.3,86.7 834,88.7"/>
<polyline fill="none" stroke="#000" stroke-width="2.7" points="1002.4,582.9 1008.3,588.3 1014.3,593.4 1020.4,598.5 1026.6,603.3 1032.9,608 1039.2,612.6 1045.6,616.9 1052.1,621.1 1058.7,625.1 1065.3,628.9 1071.9,632.5 1078.6,636 1085.3,639.3 1092.1,642.3 1098.9,645.2 1105.7,647.9 1112.6,650.3 1119.4,652.6 1126.3,654.7 1133.2,656.5 1140.1,658.2 1146.9,659.6 1153.8,660.9 1160.6,661.9 1167.4,662.7 1174.2,663.3 1181,663.7 1187.7,663.9 1194.4,663.9 1201,663.7 1207.6,663.2 1214.1,662.6 1220.6,661.7 1227,660.6 1233.3,659.3 1239.6,657.8 1245.7,656.1 1251.8,654.2 1257.8,652.1 1263.7,649.8 1269.4,647.3 1275.1,644.6 1280.7,641.6 1286.1,638.5 1291.5,635.2 1296.7,631.7 1301.8,628.1 1306.8,624.2 1311.6,620.2 1316.3,615.9 1320.8,611.5 1325.2,607 1329.5,602.2 1333.6,597.3 1337.5,592.3 1341.3,587.1 1345,581.7 1348.4,576.2 1351.7,570.5 1354.9,564.7 1357.8,558.8 1360.6,552.7 1363.2,546.5 1365.7,540.2 1367.9,533.7 1370,527.2 1371.9,520.5 1373.6,513.8 1375.2,506.9 1376.5,500 1377.7,493 1378.6,485.8 1379.4,478.7 1380,471.4 1380.4,464.1 1380.6,456.7 1380.6,449.3 1380.5,441.8 1380.1,434.3 1379.6,426.7 1378.8,419.1 1377.9,411.5 1376.8,403.9 1375.5,396.2 1374,388.6 1372.3,380.9 1370.4,373.3 1368.4,365.7 1366.2,358 1363.8,350.5 1361.2,342.9 1358.4,335.4 1355.5,327.9 1352.4,320.4 1349.1,313 1345.7,305.7 1342.1,298.4 1338.3,291.2 1334.4,284.1 1330.4,277 1326.1,270.1 1321.8,263.2 1317.2,256.4 1312.6,249.7 1307.8,243.1 1302.9,236.7 1297.8,230.3 1292.6,224.1 1287.3,218 1281.9,212 1276.3,206.2 1270.6,200.5 1264.9,194.9 1259,189.5 1253.1,184.3 1247,179.2 1240.9,174.2 1234.6,169.5 1228.3,164.8"/>
<polyline fill="none" stroke="#000" stroke-width="2.7" points="961.7,598.8 961.2,606.7 960.9,614.5 960.8,622.4 960.8,630.1 961.1,637.9 961.5,645.6 962.1,653.2 962.8,660.8 963.8,668.3 964.9,675.7 966.3,683.1 967.8,690.4 969.4,697.6 971.3,704.6 973.3,711.6 975.5,718.5 977.8,725.3 980.4,731.9 983.1,738.5 985.9,744.9 989,751.1 992.2,757.3 995.5,763.2 999,769.1 1002.7,774.8 1006.5,780.3 1010.4,785.7 1014.5,790.9 1018.7,795.9 1023.1,800.8 1027.6,805.5 1032.3,810 1037,814.3 1041.9,818.5 1046.9,822.4 1052,826.2 1057.2,829.7 1062.6,833.1 1068,836.3 1073.5,839.2 1079.2,842 1084.9,844.5 1090.7,846.8 1096.6,848.9 1102.6,850.8 1108.6,852.5 1114.7,854 1120.8,855.2 1127.1,856.3 1133.3,857.1 1139.7,857.7 1146,858.1 1152.4,858.2 1158.8,858.1 1165.3,857.8 1171.8,857.3 1178.3,856.6 1184.8,855.6 1191.3,854.5 1197.8,853.1 1204.3,851.4 1210.8,849.6 1217.3,847.6 1223.8,845.3 1230.2,842.9 1236.7,840.2 1243,837.3 1249.4,834.2 1255.7,830.9 1262,827.4 1268.2,823.7 1274.3,819.9 1280.4,815.8 1286.4,811.5 1292.3,807.1 1298.2,802.4 1304,797.6 1309.7,792.7 1315.3,787.5 1320.8,782.2 1326.2,776.7 1331.5,771.1 1336.7,765.3 1341.8,759.3 1346.7,753.3 1351.6,747 1356.3,740.7 1360.9,734.2 1365.4,727.6 1369.7,720.9 1373.9,714 1378,707.1 1381.9,700 1385.6,692.9 1389.2,685.6 1392.7,678.3 1396,670.9 1399.1,663.4 1402.1,655.8 1404.9,648.2 1407.6,640.6 1410.1,632.8 1412.4,625.1 1414.5,617.3 1416.5,609.4 1418.3,601.5 1419.9,593.7 1421.4,585.8 1422.6,577.8 1423.7,569.9 1424.6,562 1425.3,554.1 1425.9,546.2 1426.2,538.4 1426.4,530.6 1426.4,522.8 1426.2,515 1425.9,507.3 1425.3,499.7"/>
<polyline fill="none" stroke="#000" stroke-width="2.7" points="914.4,576.1 907.9,580.6 901.6,585.2 895.4,589.9 889.3,594.7 883.3,599.7 877.5,604.8 871.9,610 866.4,615.3 861.1,620.7 856,626.2 851,631.8 846.2,637.4 841.6,643.2 837.2,649 832.9,654.9 828.9,660.9 825,666.9 821.4,673 817.9,679.2 814.6,685.4 811.6,691.7 808.7,698 806.1,704.3 803.7,710.7 801.5,717.1 799.5,723.5 797.7,729.9 796.1,736.3 794.8,742.8 793.7,749.2 792.8,755.7 792.1,762.1 791.6,768.5 791.4,774.9 791.4,781.3 791.6,787.6 792,793.9 792.7,800.2 793.6,806.4 794.7,812.6 796,818.7 797.5,824.8 799.3,830.8 801.3,836.7 803.5,842.6 805.9,848.4 808.5,854.1 811.3,859.7 814.3,865.2 817.6,870.6 821,876 824.7,881.2 828.5,886.3 832.5,891.3 836.8,896.2 841.2,901 845.8,905.7 850.6,910.2 855.5,914.6 860.6,918.8 865.9,922.9 871.4,926.9 877,930.8 882.8,934.5 888.7,938 894.8,941.4 901,944.6 907.3,947.7 913.8,950.6 920.4,953.4 927.2,956 934,958.4 941,960.7 948.1,962.8 955.2,964.7 962.5,966.4 969.8,968 977.3,969.4 984.8,970.6 992.4,971.6 1000,972.5 1007.7,973.2 1015.5,973.7 1023.3,974 1031.2,974.2 1039,974.1 1047,973.9 1054.9,973.5 1062.9,972.9 1070.8,972.2 1078.8,971.2 1086.8,970.1 1094.7,968.8 1102.7,967.4 1110.6,965.7 1118.5,963.9 1126.4,961.9 1134.2,959.8 1142,957.4 1149.7,954.9 1157.4,952.3 1165,949.4 1172.5,946.5 1180,943.3 1187.3,940 1194.6,936.6 1201.8,933 1208.9,929.2 1215.9,925.3 1222.8,921.3 1229.6,917.1 1236.3,912.8 1242.8,908.3 1249.2,903.8 1255.4,899.1 1261.6,894.2 1267.5,889.3 1273.4,884.2 1279,879.1"/>
<polyline fill="none" stroke="#000" stroke-width="2.7" points="903,524.8 895.5,522.2 887.9,519.8 880.3,517.6 872.8,515.5 865.2,513.7 857.6,512 850,510.5 842.4,509.2 834.9,508.1 827.4,507.2 819.9,506.5 812.4,506 805,505.7 797.6,505.6 790.3,505.7 783,506 775.8,506.4 768.7,507.1 761.7,508 754.7,509 747.8,510.3 741,511.8 734.3,513.4 727.8,515.2 721.3,517.2 714.9,519.5 708.7,521.8 702.6,524.4 696.6,527.2 690.7,530.1 685,533.2 679.5,536.5 674,540 668.8,543.6 663.7,547.4 658.7,551.4 653.9,555.5 649.3,559.8 644.8,564.2 640.6,568.8 636.5,573.5 632.6,578.4 628.8,583.4 625.3,588.6 621.9,593.8 618.8,599.2 615.8,604.8 613,610.4 610.5,616.2 608.1,622 606,628 604,634.1 602.3,640.2 600.7,646.5 599.4,652.8 598.3,659.2 597.4,665.7 596.7,672.3 596.2,678.9 596,685.6 595.9,692.3 596.1,699.1 596.5,706 597.1,712.8 597.9,719.7 598.9,726.6 600.1,733.6 601.5,740.6 603.2,747.5 605.1,754.5 607.1,761.5 609.4,768.4 611.9,775.4 614.5,782.3 617.4,789.3 620.5,796.1 623.7,803 627.2,809.8 630.8,816.6 634.7,823.3 638.7,829.9 642.9,836.5 647.3,843.1 651.8,849.5 656.5,855.9 661.4,862.2 666.4,868.4 671.6,874.6 677,880.6 682.5,886.5 688.1,892.3 693.9,898.1 699.9,903.7 705.9,909.1 712.1,914.5 718.4,919.7 724.8,924.8 731.4,929.7 738,934.6 744.7,939.2 751.6,943.8 758.5,948.1 765.5,952.3 772.6,956.4 779.8,960.3 787,964 794.3,967.6 801.6,971 809,974.2 816.5,977.2 824,980.1 831.5,982.8 839,985.3 846.6,987.6 854.2,989.7 861.7,991.7 869.3,993.4 876.9,995 884.5,996.4"/>
<polyline fill="none" stroke="#000" stroke-width="2.7" points="933.8,485.2 931.5,478.6 929,472.1 926.3,465.7 923.6,459.3 920.7,453.1 917.7,446.9 914.6,440.8 911.3,434.8 907.9,428.9 904.4,423.1 900.8,417.5 897.1,411.9 893.3,406.5 889.3,401.1 885.3,395.9 881.1,390.9 876.8,385.9 872.5,381.1 868,376.5 863.5,372 858.8,367.6 854.1,363.4 849.3,359.3 844.4,355.4 839.5,351.6 834.4,348 829.3,344.5 824.2,341.2 818.9,338.1 813.7,335.2 808.3,332.4 802.9,329.8 797.5,327.3 792,325.1 786.5,323 780.9,321.1 775.3,319.4 769.7,317.8 764.1,316.4 758.4,315.3 752.7,314.3 747,313.4 741.3,312.8 735.6,312.4 729.9,312.1 724.2,312 718.4,312.1 712.7,312.4 707.1,312.9 701.4,313.6 695.8,314.4 690.1,315.5 684.5,316.7 679,318.1 673.5,319.7 668,321.4 662.6,323.4 657.2,325.5 651.8,327.8 646.6,330.2 641.3,332.9 636.2,335.7 631.1,338.7 626.1,341.8 621.1,345.1 616.3,348.6 611.5,352.3 606.8,356.1 602.1,360 597.6,364.1 593.2,368.4 588.8,372.8 584.6,377.3 580.4,382 576.4,386.8 572.5,391.8 568.6,396.9 564.9,402.1 561.3,407.4 557.8,412.9 554.5,418.5 551.2,424.2 548.1,430 545.1,435.9 542.3,441.9 539.5,448 536.9,454.2 534.5,460.5 532.2,466.9 530,473.3 527.9,479.8 526,486.4 524.2,493.1 522.6,499.8 521.1,506.6 519.8,513.4 518.6,520.3 517.5,527.2 516.6,534.2 515.9,541.2 515.3,548.2 514.8,555.3 514.5,562.4 514.3,569.4 514.3,576.5 514.5,583.6 514.7,590.8 515.2,597.9 515.8,604.9 516.5,612 517.4,619.1 518.4,626.1 519.6,633.1 520.9,640.1 522.4,647 524,653.9 525.7,660.7 527.6,667.5 529.7,674.3"/>
</g>
<g fill="none" stroke="#000"><circle cx="961.5" cy="538.8" r="190" stroke-width="2.7"/><circle cx="961.5" cy="538.8" r="315.5" stroke-width="2.7"/><circle cx="961.5" cy="538.8" r="446" stroke-width="3"/><circle cx="960.1" cy="538.75" r="523.9" stroke-width="4.6"/></g>
<circle cx="961.5" cy="538.8" r="81.6" fill="#fff" stroke="#000" stroke-width="3.2"/>
<g fill="#fff" stroke="#000">
<circle cx="1081.3" cy="184" r="17.3" stroke-width="3.9"/>
<circle cx="1307.4" cy="414.2" r="17.3" stroke-width="3.9"/>
<circle cx="1279.3" cy="725.8" r="17.3" stroke-width="3.9"/>
<circle cx="1017" cy="903" r="17.3" stroke-width="3.9"/>
<circle cx="713.5" cy="810.4" r="17.3" stroke-width="3.9"/>
<circle cx="593" cy="514.8" r="17.3" stroke-width="3.9"/>
<circle cx="755.4" cy="222.2" r="17.3" stroke-width="3.9"/>
<circle cx="1117.4" cy="337.8" r="22.3" stroke-width="3.7"/>
<circle cx="1210.5" cy="538.7" r="22.3" stroke-width="3.7"/>
<circle cx="1121.3" cy="729.6" r="22.3" stroke-width="3.7"/>
<circle cx="914.7" cy="782.8" r="22.3" stroke-width="3.7"/>
<circle cx="743.1" cy="655.7" r="22.3" stroke-width="3.7"/>
<circle cx="732.6" cy="440" r="22.3" stroke-width="3.7"/>
<circle cx="897" cy="291.3" r="22.3" stroke-width="3.7"/>
<circle cx="1069.8" cy="451.9" r="27.5" stroke-width="3.7"/>
<circle cx="1092" cy="573.9" r="27.5" stroke-width="3.7"/>
<circle cx="1019.4" cy="659.4" r="27.5" stroke-width="3.7"/>
<circle cx="905.2" cy="659.3" r="27.5" stroke-width="3.7"/>
<circle cx="833.2" cy="570.4" r="27.5" stroke-width="3.7"/>
<circle cx="854.7" cy="454.8" r="27.5" stroke-width="3.7"/>
<circle cx="956.3" cy="399.4" r="27.5" stroke-width="3.7"/>
</g>
<path d="M560.6,154.3 A214.7,214.7 0 0 1 678.6,58.7" fill="none" stroke="#000" stroke-width="15.4"/><polygon fill="#000" points="685.4,81.3 721,41.9 668,37.5"/>
<path d="M1205.4,48 A223,223 0 0 1 1335,127.4" fill="none" stroke="#000" stroke-width="15.4"/><polygon fill="#000" points="1315.9,141.4 1364.9,161.8 1351.5,110.4"/>
<path d="M1362.8,944.1 A204,204 0 0 1 1239.7,1032.7" fill="none" stroke="#000" stroke-width="15.4"/><polygon fill="#000" points="1234.4,1009.6 1196.6,1046.7 1248.9,1054.5"/>
<path d="M726.5,1050.2 A208.9,208.9 0 0 1 597.6,970.5" fill="none" stroke="#000" stroke-width="15.4"/><polygon fill="#000" points="616.9,956.7 567.8,935.6 580.9,987.4"/>
<g font-family="'Liberation Sans', sans-serif">
<rect x="117.9" y="17.2" width="401.7" height="52.7" fill="#F623B5" stroke="#0E2366" stroke-width="2.4"/>
<text x="250" y="54" font-size="27.5" fill="#fff" text-anchor="start" textLength="254.4" lengthAdjust="spacingAndGlyphs">Systematize (Learn)</text>
<text x="96.9" y="101.8" font-size="24.3" fill="#000" text-anchor="start" textLength="407.5" lengthAdjust="spacingAndGlyphs">Did you reflect on what you learned</text>
<text x="145.2" y="135.5" font-size="24.3" fill="#000" text-anchor="start" textLength="359.2" lengthAdjust="spacingAndGlyphs">so far? Did you evaluate how to</text>
<text x="136.8" y="168.7" font-size="24.3" fill="#000" text-anchor="start" textLength="367.6" lengthAdjust="spacingAndGlyphs">improve your work systems? For</text>
<text x="107.3" y="202.5" font-size="24.3" fill="#000" text-anchor="start" textLength="397.1" lengthAdjust="spacingAndGlyphs">example, with Agile Retrospectives</text>
<text x="201.5" y="236.2" font-size="24.3" fill="#000" text-anchor="start" textLength="302.9" lengthAdjust="spacingAndGlyphs">or Value Stream Mapping?</text>
<rect x="29.2" y="271.3" width="400.4" height="53.3" fill="#93278F" stroke="#0E2366" stroke-width="2.4"/>
<text x="222.4" y="308.1" font-size="27.5" fill="#fff" text-anchor="start" textLength="192.9" lengthAdjust="spacingAndGlyphs">Sensitize (Test)</text>
<text x="116.3" y="351.7" font-size="24.3" fill="#000" text-anchor="start" textLength="299" lengthAdjust="spacingAndGlyphs">Did you check how people</text>
<text x="47.6" y="385.6" font-size="24.3" fill="#000" text-anchor="start" textLength="367.7" lengthAdjust="spacingAndGlyphs">responded to your releases? Did</text>
<text x="27.6" y="418.6" font-size="24.3" fill="#000" text-anchor="start" textLength="387.7" lengthAdjust="spacingAndGlyphs">you validate the experiments? For</text>
<text x="45.3" y="452.5" font-size="24.3" fill="#000" text-anchor="start" textLength="370" lengthAdjust="spacingAndGlyphs">example, with Customer Demos,</text>
<text x="89.5" y="485.7" font-size="24.3" fill="#000" text-anchor="start" textLength="325.8" lengthAdjust="spacingAndGlyphs">A/B Testing, or Eye Tracking?</text>
<rect x="28.2" y="573.5" width="400.5" height="52.6" fill="#48C1F1" stroke="#0E2366" stroke-width="2.4"/>
<text x="180" y="609.7" font-size="27.5" fill="#000" text-anchor="start" textLength="233.5" lengthAdjust="spacingAndGlyphs">Externalize (Build)</text>
<text x="95.2" y="656.7" font-size="24.3" fill="#000" text-anchor="start" textLength="319.7" lengthAdjust="spacingAndGlyphs">Did you build prototypes for</text>
<text x="10" y="689.9" font-size="24.3" fill="#000" text-anchor="start" textLength="404.9" lengthAdjust="spacingAndGlyphs">possible solutions? Did you prepare</text>
<text x="87.2" y="723.1" font-size="24.3" fill="#000" text-anchor="start" textLength="327.7" lengthAdjust="spacingAndGlyphs">iterative releases for running</text>
<text x="57.4" y="757" font-size="24.3" fill="#000" text-anchor="start" textLength="357.5" lengthAdjust="spacingAndGlyphs">experiments? For example with</text>
<text x="106.7" y="790.7" font-size="24.3" fill="#000" text-anchor="start" textLength="308.2" lengthAdjust="spacingAndGlyphs">Minimum Viable Products?</text>
<rect x="118.1" y="839.3" width="401.5" height="54.3" fill="#3BB54A" stroke="#0E2366" stroke-width="2.4"/>
<text x="236.7" y="877" font-size="27.5" fill="#fff" text-anchor="start" textLength="267.5" lengthAdjust="spacingAndGlyphs">Hypothesize (Ideate)</text>
<text x="160.3" y="924.9" font-size="24.3" fill="#000" text-anchor="start" textLength="344.6" lengthAdjust="spacingAndGlyphs">Did you come up with ideas to</text>
<text x="151.8" y="958.5" font-size="24.3" fill="#000" text-anchor="start" textLength="353.1" lengthAdjust="spacingAndGlyphs">address the problems? Did you</text>
<text x="140.2" y="992" font-size="24.3" fill="#000" text-anchor="start" textLength="364.7" lengthAdjust="spacingAndGlyphs">brainstorm about solutions? For</text>
<text x="117.5" y="1025.6" font-size="24.3" fill="#000" text-anchor="start" textLength="387.4" lengthAdjust="spacingAndGlyphs">example, with a Value Proposition</text>
<text x="153.9" y="1059.2" font-size="24.3" fill="#000" text-anchor="start" textLength="351" lengthAdjust="spacingAndGlyphs">Canvas and Lean Experiments?</text>
<rect x="1495.1" y="266.2" width="401" height="53.6" fill="#D91A5D" stroke="#0E2366" stroke-width="2.4"/>
<text x="1508.6" y="302.5" font-size="27.5" fill="#fff" text-anchor="start" textLength="276.1" lengthAdjust="spacingAndGlyphs">Contextualize (Focus)</text>
<text x="1509.1" y="351" font-size="24.3" fill="#000" text-anchor="start" textLength="370.5" lengthAdjust="spacingAndGlyphs">Did you choose which domain to</text>
<text x="1509.1" y="384.6" font-size="24.3" fill="#000" text-anchor="start" textLength="388.5" lengthAdjust="spacingAndGlyphs">focus on? Did you work on what is</text>
<text x="1509.1" y="418.2" font-size="24.3" fill="#000" text-anchor="start" textLength="382.1" lengthAdjust="spacingAndGlyphs">in-scope versus out-of-scope? For</text>
<text x="1509.1" y="451.7" font-size="24.3" fill="#000" text-anchor="start" textLength="356.1" lengthAdjust="spacingAndGlyphs">example, with a Lean Canvas or</text>
<text x="1509.1" y="486" font-size="24.3" fill="#000" text-anchor="start" textLength="277" lengthAdjust="spacingAndGlyphs">Business Model Canvas?</text>
<rect x="1495.1" y="572.1" width="400.8" height="54.5" fill="#F7941E" stroke="#0E2366" stroke-width="2.4"/>
<text x="1509.1" y="608.6" font-size="27.5" fill="#000" text-anchor="start" textLength="272.8" lengthAdjust="spacingAndGlyphs">Empathize (Discover)</text>
<text x="1509.1" y="656.1" font-size="24.3" fill="#000" text-anchor="start" textLength="352.2" lengthAdjust="spacingAndGlyphs">Did you do work to understand</text>
<text x="1509.1" y="690.3" font-size="24.3" fill="#000" text-anchor="start" textLength="385.1" lengthAdjust="spacingAndGlyphs">people’s current experiences? Did</text>
<text x="1509.1" y="723.6" font-size="24.3" fill="#000" text-anchor="start" textLength="393.2" lengthAdjust="spacingAndGlyphs">you try to uncover their needs and</text>
<text x="1509.1" y="757.4" font-size="24.3" fill="#000" text-anchor="start" textLength="310.3" lengthAdjust="spacingAndGlyphs">feelings? For example, with</text>
<text x="1509.1" y="791" font-size="24.3" fill="#000" text-anchor="start" textLength="394.3" lengthAdjust="spacingAndGlyphs">Customer Interviews or Site Visits?</text>
<rect x="1401.2" y="840.5" width="401.5" height="53.1" fill="#D9E021" stroke="#0E2366" stroke-width="2.4"/>
<text x="1415.2" y="877" font-size="27.5" fill="#000" text-anchor="start" textLength="248.5" lengthAdjust="spacingAndGlyphs">Synthesize (Define)</text>
<text x="1415.6" y="924.9" font-size="24.3" fill="#000" text-anchor="start" textLength="397.8" lengthAdjust="spacingAndGlyphs">Did you work on a cohesive picture</text>
<text x="1415.6" y="958.5" font-size="24.3" fill="#000" text-anchor="start" textLength="400.8" lengthAdjust="spacingAndGlyphs">of people’s needs and feelings? Did</text>
<text x="1415.6" y="992" font-size="24.3" fill="#000" text-anchor="start" textLength="373.5" lengthAdjust="spacingAndGlyphs">you try to clarify their problems?</text>
<text x="1415.6" y="1026.3" font-size="24.3" fill="#000" text-anchor="start" textLength="365.4" lengthAdjust="spacingAndGlyphs">For example with Lean Personas</text>
<text x="1415.6" y="1059.2" font-size="24.3" fill="#000" text-anchor="start" textLength="306.8" lengthAdjust="spacingAndGlyphs">and their Jobs To Be Done?</text>
<rect x="1402.3" y="99" width="377.6" height="53.6" fill="#000" stroke="#0E2366" stroke-width="2.4"/>
<text x="1416.3" y="135.6" font-size="28" fill="#fff" text-anchor="start" textLength="295.1" lengthAdjust="spacingAndGlyphs" font-weight="bold">The Innovation Vortex</text>
<text x="1417.2" y="180.4" font-size="23" fill="#000" text-anchor="start" textLength="254.9" lengthAdjust="spacingAndGlyphs">© 2019 Jurgen Appelo</text>
<text x="1416.3" y="214.4" font-size="23" fill="#000" text-anchor="start" textLength="206.9" lengthAdjust="spacingAndGlyphs">jurgenappelo.com</text>
<text transform="translate(905.1 79.1) rotate(-5)" x="0" y="0" font-size="33" text-anchor="middle" textLength="174.4" lengthAdjust="spacingAndGlyphs">Systematize</text>
<text transform="translate(1308.5 232) rotate(49.1)" x="0" y="0" font-size="33" text-anchor="middle" textLength="198.1" lengthAdjust="spacingAndGlyphs">Contextualize</text>
<text transform="translate(1417.6 612.9) rotate(99.9)" x="0" y="0" font-size="33" text-anchor="middle" textLength="152.2" lengthAdjust="spacingAndGlyphs">Empathize</text>
<text transform="translate(1200.5 940.8) rotate(151.6)" x="0" y="0" font-size="33" text-anchor="middle" textLength="154.6" lengthAdjust="spacingAndGlyphs">Synthesize</text>
<text transform="translate(791.5 974.6) rotate(202.2)" x="0" y="0" font-size="33" text-anchor="middle" textLength="179.3" lengthAdjust="spacingAndGlyphs">Hypothesize</text>
<text transform="translate(514.5 668.2) rotate(-106.8)" x="0" y="0" font-size="33" text-anchor="middle" textLength="161.3" lengthAdjust="spacingAndGlyphs">Externalize</text>
<text transform="translate(575.7 283.2) rotate(-55.5)" x="0" y="0" font-size="33" text-anchor="middle" textLength="127.6" lengthAdjust="spacingAndGlyphs">Sensitize</text>
</g>
<g fill="#D81B5E">
<path d="M1450,37 C1444,31 1437,29 1430,29 C1420,29 1412,34 1412,41 C1412,50 1422,52 1432,55 C1442,58 1449,61 1449,69 C1449,76 1441,79.6 1430,79.6 C1420,79.6 1412,76 1406,71" fill="none" stroke="#D81B5E" stroke-width="14.5"/>
<rect x="1463.2" y="22.8" width="17.7" height="62.2"/><rect x="1502.8" y="22.8" width="17.2" height="62.2"/><rect x="1480" y="48.1" width="23.5" height="15.65"/>
<rect x="1529.9" y="22.8" width="17.4" height="62.2"/>
<rect x="1557" y="22.8" width="17.7" height="62.2"/><rect x="1557" y="22.8" width="38.7" height="15.6"/><rect x="1557" y="48.5" width="32.8" height="11.5"/>
<rect x="1603" y="22.8" width="47.9" height="15.95"/><rect x="1617.9" y="22.8" width="17.1" height="63"/>
<path d="M1659.3,23.1 H1676.8 V57.75 A11.55,11.55 0 0 0 1699.9,57.75 V23.1 H1717.6 V57.75 A29.15,29.15 0 0 1 1659.3,57.75 Z"/>
<path d="M1725.9,22.8 H1756.1 A22.65,22.65 0 0 1 1756.1,68.1 H1743.6 V85.8 H1725.9 Z M1743.6,38 V54.6 H1752.5 A8.3,8.3 0 0 0 1752.5,38 Z" fill-rule="evenodd"/>
</g><g fill="#fff">
<rect x="1398" y="75.9" width="62" height="4.9"/><rect x="1461" y="70.4" width="61" height="5.2"/><rect x="1528" y="64.8" width="21" height="5.4"/>
<rect x="1555" y="60" width="22" height="5"/><rect x="1616" y="54.8" width="21" height="5.2"/><rect x="1657" y="49.6" width="63" height="5.2"/><rect x="1724" y="44.7" width="58" height="5.2"/>
</g>
</svg></body></html>
